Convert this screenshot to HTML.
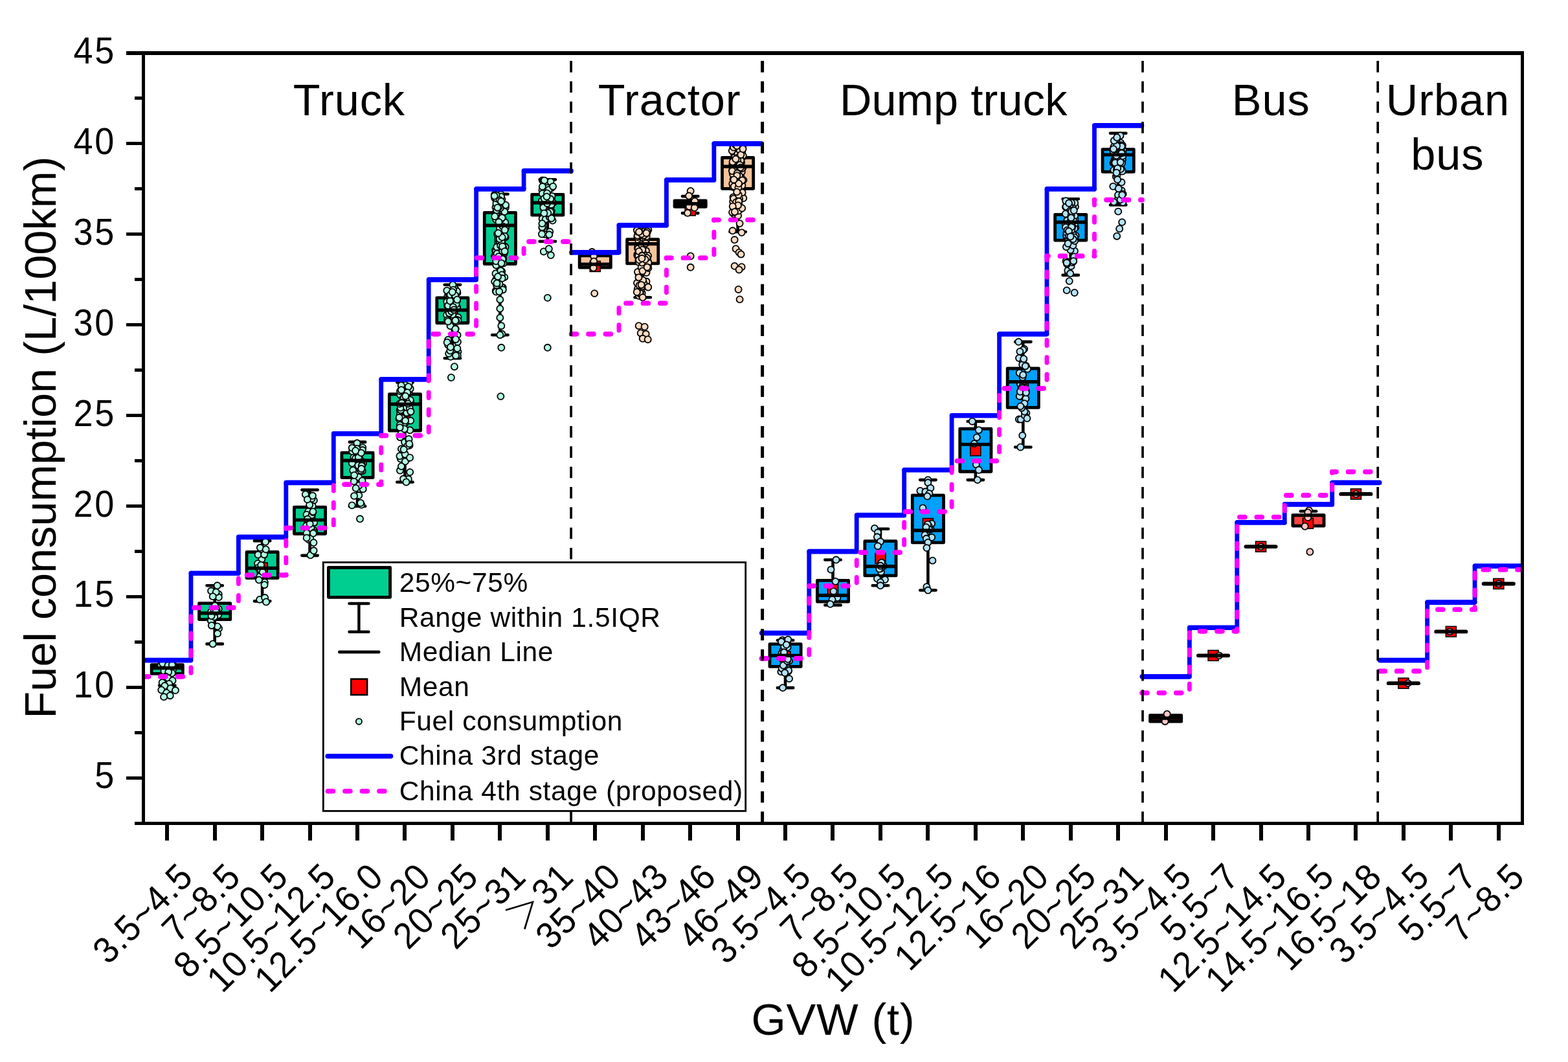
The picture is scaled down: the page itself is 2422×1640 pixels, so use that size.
<!DOCTYPE html>
<html lang="en"><head><meta charset="utf-8"><title>Fuel consumption by GVW</title>
<style>html,body{margin:0;padding:0;background:#fff}body{width:2422px;height:1640px;overflow:hidden}svg{display:block}text{white-space:pre}</style>
</head><body>
<figure id="chart" style="margin:0;width:2422px;height:1640px">
<svg width="2422" height="1640" viewBox="0 0 2422 1640" role="img" aria-label="Fuel consumption (L/100km) by GVW (t) for Truck, Tractor, Dump truck, Bus and Urban bus">
<rect width="2422" height="1640" fill="#fff"/>
<g id="boxes" stroke="#000" stroke-linecap="round" stroke-linejoin="round">
<g>
<path d="M258.22 1026.6V1022.4M246.02 1022.4H270.42" fill="none" stroke-width="4.6"/>
<path d="M258.22 1040.32V1058.51M246.02 1058.51H270.42" fill="none" stroke-width="4.6"/>
<rect x="234.12" y="1026.6" width="48.2" height="13.71" fill="#00CD90" stroke-width="4.8"/>
<rect x="250.22" y="1034" width="16" height="16" fill="#FF0000" stroke-width="1.6" stroke-linejoin="miter"/>
<g fill="#B3FCE4" stroke-width="1.8"><circle cx="261.5" cy="1031.33" r="5.05"/><circle cx="248.51" cy="1027.2" r="5.05"/><circle cx="267.08" cy="1034.11" r="5.05"/><circle cx="266.2" cy="1027.55" r="5.05"/><circle cx="256.17" cy="1027.3" r="5.05"/><circle cx="251.22" cy="1024.64" r="5.05"/><circle cx="259.52" cy="1027.44" r="5.05"/><circle cx="265.82" cy="1026.6" r="5.05"/><circle cx="253.42" cy="1036.2" r="5.05"/><circle cx="265.82" cy="1039.48" r="5.05"/><circle cx="260.22" cy="1037.8" r="5.05"/><circle cx="256.22" cy="1044.8" r="5.05"/><circle cx="259.52" cy="1047.03" r="5.05"/><circle cx="266.52" cy="1050.95" r="5.05"/><circle cx="250.62" cy="1054.03" r="5.05"/><circle cx="261.22" cy="1055.99" r="5.05"/><circle cx="254.42" cy="1059.07" r="5.05"/><circle cx="263.32" cy="1062.99" r="5.05"/><circle cx="249.32" cy="1065.51" r="5.05"/><circle cx="270.92" cy="1066.07" r="5.05"/><circle cx="257.22" cy="1069.98" r="5.05"/><circle cx="262.72" cy="1074.18" r="5.05"/><circle cx="253.12" cy="1076.14" r="5.05"/></g>
<path d="M234.12 1031.64H282.32" fill="none" stroke-width="5.2" stroke-linecap="butt"/>
</g>
<g>
<path d="M331.67 931.72V904.29M319.47 904.29H343.87" fill="none" stroke-width="4.6"/>
<path d="M331.67 956.63V994.42M319.47 994.42H343.87" fill="none" stroke-width="4.6"/>
<rect x="307.57" y="931.72" width="48.2" height="24.91" fill="#00CD90" stroke-width="4.8"/>
<rect x="323.67" y="936.04" width="16" height="16" fill="#FF0000" stroke-width="1.6" stroke-linejoin="miter"/>
<g fill="#B3FCE4" stroke-width="1.8"><circle cx="325.85" cy="958.51" r="5.05"/><circle cx="337.77" cy="917.79" r="5.05"/><circle cx="325.35" cy="945.79" r="5.05"/><circle cx="335.71" cy="951.02" r="5.05"/><circle cx="326.09" cy="912.53" r="5.05"/><circle cx="335.27" cy="939.78" r="5.05"/><circle cx="332.59" cy="946.14" r="5.05"/><circle cx="337.82" cy="922.31" r="5.05"/><circle cx="337.28" cy="949.63" r="5.05"/><circle cx="337.76" cy="940.37" r="5.05"/><circle cx="338.03" cy="970.51" r="5.05"/><circle cx="332.02" cy="935.49" r="5.05"/><circle cx="335.84" cy="967.36" r="5.05"/><circle cx="334.57" cy="941.16" r="5.05"/><circle cx="326.84" cy="965.93" r="5.05"/><circle cx="330.57" cy="943.66" r="5.05"/><circle cx="331.2" cy="952.58" r="5.05"/><circle cx="336.02" cy="978.4" r="5.05"/><circle cx="326.5" cy="951.13" r="5.05"/><circle cx="333.7" cy="914.42" r="5.05"/><circle cx="333.44" cy="944.58" r="5.05"/><circle cx="328.72" cy="921.13" r="5.05"/><circle cx="328.67" cy="994.42" r="5.05"/><circle cx="335.67" cy="904.29" r="5.05"/></g>
<path d="M307.57 946.84H355.77" fill="none" stroke-width="5.2" stroke-linecap="butt"/>
</g>
<g>
<path d="M405.12 852.52V835.16M392.92 835.16H417.32" fill="none" stroke-width="4.6"/>
<path d="M405.12 892.54V928.36M392.92 928.36H417.32" fill="none" stroke-width="4.6"/>
<rect x="381.02" y="852.52" width="48.2" height="40.02" fill="#00CD90" stroke-width="4.8"/>
<rect x="397.12" y="868.87" width="16" height="16" fill="#FF0000" stroke-width="1.6" stroke-linejoin="miter"/>
<g fill="#B3FCE4" stroke-width="1.8"><circle cx="408.82" cy="849.09" r="5.05"/><circle cx="399.35" cy="874.48" r="5.05"/><circle cx="401.33" cy="890.09" r="5.05"/><circle cx="410.11" cy="836.7" r="5.05"/><circle cx="404.37" cy="863.64" r="5.05"/><circle cx="408.9" cy="899.26" r="5.05"/><circle cx="404.78" cy="879.14" r="5.05"/><circle cx="404.1" cy="848.09" r="5.05"/><circle cx="408.51" cy="903.18" r="5.05"/><circle cx="398.48" cy="874.39" r="5.05"/><circle cx="401.87" cy="845.81" r="5.05"/><circle cx="398.13" cy="870.13" r="5.05"/><circle cx="398.58" cy="856.57" r="5.05"/><circle cx="399.98" cy="895.56" r="5.05"/><circle cx="398.56" cy="876.85" r="5.05"/><circle cx="408.16" cy="856.43" r="5.05"/><circle cx="410.66" cy="848.34" r="5.05"/><circle cx="403.16" cy="872.63" r="5.05"/><circle cx="402.86" cy="880.73" r="5.05"/><circle cx="405.65" cy="883.4" r="5.05"/><circle cx="401.12" cy="925.85" r="5.05"/><circle cx="409.12" cy="923.05" r="5.05"/><circle cx="411.12" cy="929.48" r="5.05"/></g>
<path d="M381.02 877.43H429.22" fill="none" stroke-width="5.2" stroke-linecap="butt"/>
</g>
<g>
<path d="M478.57 783.11V756.52M466.37 756.52H490.77" fill="none" stroke-width="4.6"/>
<path d="M478.57 824.25V857.83M466.37 857.83H490.77" fill="none" stroke-width="4.6"/>
<rect x="454.47" y="783.11" width="48.2" height="41.14" fill="#00CD90" stroke-width="4.8"/>
<rect x="470.57" y="796.1" width="16" height="16" fill="#FF0000" stroke-width="1.6" stroke-linejoin="miter"/>
<g fill="#B3FCE4" stroke-width="1.8"><circle cx="481.27" cy="799.02" r="5.05"/><circle cx="473.72" cy="823.15" r="5.05"/><circle cx="471.86" cy="763.52" r="5.05"/><circle cx="485.23" cy="806.92" r="5.05"/><circle cx="484.85" cy="772.74" r="5.05"/><circle cx="476.11" cy="789.84" r="5.05"/><circle cx="473.57" cy="794.6" r="5.05"/><circle cx="481.58" cy="795.43" r="5.05"/><circle cx="483.4" cy="790.96" r="5.05"/><circle cx="474.2" cy="803.31" r="5.05"/><circle cx="482.73" cy="781.55" r="5.05"/><circle cx="485.12" cy="819.27" r="5.05"/><circle cx="473.22" cy="811.79" r="5.05"/><circle cx="480.68" cy="815.62" r="5.05"/><circle cx="481.63" cy="770.05" r="5.05"/><circle cx="477.02" cy="833.33" r="5.05"/><circle cx="478.18" cy="779.6" r="5.05"/><circle cx="475.03" cy="801.53" r="5.05"/><circle cx="483.4" cy="790.09" r="5.05"/><circle cx="482.89" cy="765.53" r="5.05"/><circle cx="479.33" cy="831.83" r="5.05"/><circle cx="473.64" cy="830.63" r="5.05"/><circle cx="478.65" cy="809.04" r="5.05"/><circle cx="474.86" cy="771.4" r="5.05"/><circle cx="485.34" cy="822.17" r="5.05"/><circle cx="483.91" cy="823.59" r="5.05"/><circle cx="484.43" cy="837.99" r="5.05"/><circle cx="479.57" cy="857.27" r="5.05"/><circle cx="484.57" cy="850.28" r="5.05"/></g>
<path d="M454.47 802.98H502.67" fill="none" stroke-width="5.2" stroke-linecap="butt"/>
</g>
<g>
<path d="M552.02 699.14V682.63M539.82 682.63H564.22" fill="none" stroke-width="4.6"/>
<path d="M552.02 737.48V781.71M539.82 781.71H564.22" fill="none" stroke-width="4.6"/>
<rect x="527.92" y="699.14" width="48.2" height="38.34" fill="#00CD90" stroke-width="4.8"/>
<rect x="544.02" y="712.13" width="16" height="16" fill="#FF0000" stroke-width="1.6" stroke-linejoin="miter"/>
<g fill="#B3FCE4" stroke-width="1.8"><circle cx="558.28" cy="712" r="5.05"/><circle cx="549" cy="719.96" r="5.05"/><circle cx="550.02" cy="740.25" r="5.05"/><circle cx="555.23" cy="755.21" r="5.05"/><circle cx="546.43" cy="706.14" r="5.05"/><circle cx="543.73" cy="780.34" r="5.05"/><circle cx="559.26" cy="718.96" r="5.05"/><circle cx="554.3" cy="765.04" r="5.05"/><circle cx="553.8" cy="726.97" r="5.05"/><circle cx="560.66" cy="755.21" r="5.05"/><circle cx="559.76" cy="727.29" r="5.05"/><circle cx="558.3" cy="779.63" r="5.05"/><circle cx="554.91" cy="706.47" r="5.05"/><circle cx="548.3" cy="695.43" r="5.05"/><circle cx="550.84" cy="698.6" r="5.05"/><circle cx="550.1" cy="714.7" r="5.05"/><circle cx="552.69" cy="702.01" r="5.05"/><circle cx="552.52" cy="696.63" r="5.05"/><circle cx="546.71" cy="743.36" r="5.05"/><circle cx="560.92" cy="715.51" r="5.05"/><circle cx="543.81" cy="715.24" r="5.05"/><circle cx="554" cy="736.78" r="5.05"/><circle cx="554.79" cy="749.46" r="5.05"/><circle cx="559.51" cy="742.34" r="5.05"/><circle cx="552.77" cy="710.12" r="5.05"/><circle cx="551.53" cy="684.32" r="5.05"/><circle cx="554.39" cy="705.41" r="5.05"/><circle cx="558.79" cy="716.88" r="5.05"/><circle cx="554.93" cy="723.78" r="5.05"/><circle cx="549.14" cy="707.86" r="5.05"/><circle cx="545.23" cy="726.17" r="5.05"/><circle cx="557.55" cy="725.07" r="5.05"/><circle cx="557.01" cy="776.7" r="5.05"/><circle cx="547.2" cy="733.84" r="5.05"/><circle cx="560.27" cy="691.22" r="5.05"/><circle cx="553.32" cy="718.76" r="5.05"/><circle cx="549.62" cy="753.9" r="5.05"/><circle cx="559.83" cy="695.03" r="5.05"/><circle cx="551.3" cy="692.94" r="5.05"/><circle cx="553.75" cy="706.32" r="5.05"/><circle cx="558.75" cy="719.33" r="5.05"/><circle cx="544.2" cy="697.06" r="5.05"/><circle cx="557.93" cy="699.34" r="5.05"/><circle cx="547.05" cy="765.89" r="5.05"/><circle cx="543.78" cy="691.57" r="5.05"/><circle cx="557.39" cy="726.46" r="5.05"/><circle cx="549.18" cy="696" r="5.05"/><circle cx="558.22" cy="723.82" r="5.05"/><circle cx="556.02" cy="801.3" r="5.05"/></g>
<path d="M527.92 711.18H576.12" fill="none" stroke-width="5.2" stroke-linecap="butt"/>
</g>
<g>
<path d="M625.47 608.74V590.55M613.27 590.55H637.67" fill="none" stroke-width="4.6"/>
<path d="M625.47 664.99V744.48M613.27 744.48H637.67" fill="none" stroke-width="4.6"/>
<rect x="601.37" y="608.74" width="48.2" height="56.26" fill="#00CD90" stroke-width="4.8"/>
<rect x="617.47" y="633.76" width="16" height="16" fill="#FF0000" stroke-width="1.6" stroke-linejoin="miter"/>
<g fill="#B3FCE4" stroke-width="1.8"><circle cx="630.73" cy="605.41" r="5.05"/><circle cx="617.96" cy="726.57" r="5.05"/><circle cx="619.91" cy="707.05" r="5.05"/><circle cx="623.73" cy="645.03" r="5.05"/><circle cx="619.51" cy="669.63" r="5.05"/><circle cx="625.06" cy="682.8" r="5.05"/><circle cx="618.24" cy="703.92" r="5.05"/><circle cx="624.83" cy="700.18" r="5.05"/><circle cx="628.52" cy="709.12" r="5.05"/><circle cx="618.11" cy="609.48" r="5.05"/><circle cx="625.79" cy="653.2" r="5.05"/><circle cx="630.01" cy="637.82" r="5.05"/><circle cx="623.45" cy="655.31" r="5.05"/><circle cx="618.87" cy="708.57" r="5.05"/><circle cx="617.61" cy="633.3" r="5.05"/><circle cx="623.86" cy="635.47" r="5.05"/><circle cx="629.88" cy="608.19" r="5.05"/><circle cx="621.07" cy="597.22" r="5.05"/><circle cx="632.59" cy="687.85" r="5.05"/><circle cx="616.48" cy="646.85" r="5.05"/><circle cx="620.94" cy="643.75" r="5.05"/><circle cx="628.15" cy="637.34" r="5.05"/><circle cx="625.86" cy="712.66" r="5.05"/><circle cx="634.37" cy="635.28" r="5.05"/><circle cx="619.93" cy="720.15" r="5.05"/><circle cx="631.7" cy="606.15" r="5.05"/><circle cx="617.47" cy="704.26" r="5.05"/><circle cx="617.92" cy="644.73" r="5.05"/><circle cx="624.76" cy="624.56" r="5.05"/><circle cx="617.89" cy="640.01" r="5.05"/><circle cx="619.44" cy="643.58" r="5.05"/><circle cx="623.8" cy="647.32" r="5.05"/><circle cx="625.89" cy="607.78" r="5.05"/><circle cx="630.5" cy="603.67" r="5.05"/><circle cx="618" cy="604.01" r="5.05"/><circle cx="631.27" cy="679.19" r="5.05"/><circle cx="634.27" cy="620.93" r="5.05"/><circle cx="620.58" cy="645.5" r="5.05"/><circle cx="619.04" cy="633.19" r="5.05"/><circle cx="633.77" cy="617.77" r="5.05"/><circle cx="633.23" cy="729.1" r="5.05"/><circle cx="631.55" cy="677.94" r="5.05"/><circle cx="618.08" cy="675.21" r="5.05"/><circle cx="623.26" cy="620.07" r="5.05"/><circle cx="618.81" cy="629.54" r="5.05"/><circle cx="633.22" cy="664.3" r="5.05"/><circle cx="632.08" cy="591.47" r="5.05"/><circle cx="621.02" cy="595.04" r="5.05"/><circle cx="626.08" cy="594.77" r="5.05"/><circle cx="622" cy="615.91" r="5.05"/><circle cx="627.12" cy="618.04" r="5.05"/><circle cx="617.19" cy="623.66" r="5.05"/><circle cx="617.73" cy="656.49" r="5.05"/><circle cx="634.17" cy="649.64" r="5.05"/><circle cx="628.07" cy="629.01" r="5.05"/><circle cx="619.75" cy="595.22" r="5.05"/><circle cx="632.71" cy="630.29" r="5.05"/><circle cx="629.38" cy="688.52" r="5.05"/><circle cx="623.52" cy="614.21" r="5.05"/><circle cx="616.67" cy="644.79" r="5.05"/><circle cx="625.72" cy="701.57" r="5.05"/><circle cx="633.7" cy="600.31" r="5.05"/><circle cx="624.7" cy="662.48" r="5.05"/><circle cx="622.03" cy="622.08" r="5.05"/><circle cx="630.31" cy="623.45" r="5.05"/><circle cx="617.59" cy="660.17" r="5.05"/><circle cx="619.93" cy="693.15" r="5.05"/><circle cx="626.11" cy="649.62" r="5.05"/><circle cx="633.13" cy="706.71" r="5.05"/><circle cx="634.42" cy="635.67" r="5.05"/><circle cx="630.86" cy="597.14" r="5.05"/><circle cx="629.22" cy="606.13" r="5.05"/><circle cx="632.25" cy="685.39" r="5.05"/><circle cx="630.82" cy="739.78" r="5.05"/><circle cx="623.07" cy="739.56" r="5.05"/><circle cx="623.68" cy="694.06" r="5.05"/><circle cx="619.91" cy="602.26" r="5.05"/><circle cx="620.47" cy="622.28" r="5.05"/><circle cx="626.33" cy="611.71" r="5.05"/><circle cx="627.47" cy="744.48" r="5.05"/></g>
<path d="M601.37 624.13H649.57" fill="none" stroke-width="5.2" stroke-linecap="butt"/>
</g>
<g>
<path d="M698.91 459.84V439.69M686.71 439.69H711.11" fill="none" stroke-width="4.6"/>
<path d="M698.91 498.74V553.32M686.71 553.32H711.11" fill="none" stroke-width="4.6"/>
<rect x="674.81" y="459.84" width="48.2" height="38.9" fill="#00CD90" stroke-width="4.8"/>
<rect x="690.91" y="474.23" width="16" height="16" fill="#FF0000" stroke-width="1.6" stroke-linejoin="miter"/>
<g fill="#B3FCE4" stroke-width="1.8"><circle cx="696.54" cy="489.03" r="5.05"/><circle cx="701" cy="489" r="5.05"/><circle cx="706.12" cy="475.1" r="5.05"/><circle cx="703.24" cy="541.71" r="5.05"/><circle cx="698.56" cy="468.24" r="5.05"/><circle cx="690.5" cy="463.65" r="5.05"/><circle cx="706.44" cy="452.16" r="5.05"/><circle cx="694.02" cy="487.29" r="5.05"/><circle cx="707.46" cy="543.11" r="5.05"/><circle cx="691.43" cy="457.24" r="5.05"/><circle cx="704.89" cy="474.05" r="5.05"/><circle cx="697" cy="494.02" r="5.05"/><circle cx="702.87" cy="445.76" r="5.05"/><circle cx="705.77" cy="464.88" r="5.05"/><circle cx="707.49" cy="490" r="5.05"/><circle cx="698.9" cy="455.82" r="5.05"/><circle cx="703.09" cy="446.24" r="5.05"/><circle cx="696.98" cy="458.76" r="5.05"/><circle cx="706.43" cy="494.03" r="5.05"/><circle cx="693.75" cy="480.65" r="5.05"/><circle cx="692.12" cy="524.77" r="5.05"/><circle cx="706.85" cy="549.04" r="5.05"/><circle cx="704.32" cy="465.45" r="5.05"/><circle cx="693.54" cy="491.58" r="5.05"/><circle cx="705.52" cy="449.74" r="5.05"/><circle cx="700.88" cy="491.79" r="5.05"/><circle cx="690.05" cy="486.34" r="5.05"/><circle cx="696.11" cy="550.75" r="5.05"/><circle cx="700.19" cy="497.71" r="5.05"/><circle cx="703.07" cy="497.86" r="5.05"/><circle cx="693.19" cy="545.99" r="5.05"/><circle cx="705.97" cy="450.02" r="5.05"/><circle cx="692.22" cy="532.89" r="5.05"/><circle cx="695.01" cy="481.38" r="5.05"/><circle cx="694.81" cy="477.68" r="5.05"/><circle cx="706.54" cy="517.41" r="5.05"/><circle cx="693.31" cy="481.77" r="5.05"/><circle cx="705.96" cy="474.1" r="5.05"/><circle cx="690.68" cy="528.74" r="5.05"/><circle cx="694.72" cy="469.13" r="5.05"/><circle cx="693.59" cy="459.03" r="5.05"/><circle cx="703.73" cy="507.76" r="5.05"/><circle cx="695.35" cy="541.52" r="5.05"/><circle cx="694.27" cy="459.56" r="5.05"/><circle cx="690.83" cy="472.09" r="5.05"/><circle cx="693.79" cy="457.5" r="5.05"/><circle cx="692.89" cy="452.97" r="5.05"/><circle cx="694.66" cy="481.31" r="5.05"/><circle cx="695.05" cy="474.44" r="5.05"/><circle cx="705.88" cy="475.64" r="5.05"/><circle cx="699.23" cy="485.71" r="5.05"/><circle cx="706.91" cy="528.02" r="5.05"/><circle cx="701.57" cy="462.07" r="5.05"/><circle cx="694.79" cy="497.49" r="5.05"/><circle cx="694.26" cy="457.32" r="5.05"/><circle cx="693.84" cy="483.69" r="5.05"/><circle cx="707.43" cy="495.19" r="5.05"/><circle cx="704.61" cy="496.83" r="5.05"/><circle cx="703.5" cy="494.99" r="5.05"/><circle cx="699.37" cy="439.98" r="5.05"/><circle cx="690.27" cy="448.67" r="5.05"/><circle cx="690.27" cy="466.08" r="5.05"/><circle cx="706.34" cy="538.04" r="5.05"/><circle cx="691.18" cy="494.28" r="5.05"/><circle cx="695.59" cy="503.4" r="5.05"/><circle cx="692.12" cy="496.46" r="5.05"/><circle cx="698.83" cy="478.65" r="5.05"/><circle cx="697.13" cy="480.88" r="5.05"/><circle cx="700.1" cy="447.59" r="5.05"/><circle cx="704.49" cy="469.9" r="5.05"/><circle cx="692.17" cy="472.03" r="5.05"/><circle cx="703.97" cy="523.97" r="5.05"/><circle cx="695.08" cy="464.76" r="5.05"/><circle cx="695.49" cy="455.19" r="5.05"/><circle cx="702.35" cy="456.22" r="5.05"/><circle cx="702.88" cy="455.99" r="5.05"/><circle cx="695.93" cy="536.01" r="5.05"/><circle cx="699.96" cy="474.08" r="5.05"/><circle cx="698.75" cy="450.96" r="5.05"/><circle cx="701.17" cy="478.49" r="5.05"/><circle cx="704.11" cy="549.16" r="5.05"/><circle cx="703.32" cy="508.27" r="5.05"/><circle cx="706.14" cy="462.76" r="5.05"/><circle cx="701.91" cy="566.2" r="5.05"/><circle cx="696.91" cy="582.99" r="5.05"/></g>
<path d="M674.81 478.87H723.01" fill="none" stroke-width="5.2" stroke-linecap="butt"/>
</g>
<g>
<path d="M772.36 328.3V299.75M760.16 299.75H784.56" fill="none" stroke-width="4.6"/>
<path d="M772.36 407.5V517.22M760.16 517.22H784.56" fill="none" stroke-width="4.6"/>
<rect x="748.26" y="328.3" width="48.2" height="79.21" fill="#00CD90" stroke-width="4.8"/>
<rect x="764.36" y="365.08" width="16" height="16" fill="#FF0000" stroke-width="1.6" stroke-linejoin="miter"/>
<g fill="#B3FCE4" stroke-width="1.8"><circle cx="776.7" cy="443.96" r="5.05"/><circle cx="777.6" cy="406.6" r="5.05"/><circle cx="775.44" cy="307.91" r="5.05"/><circle cx="767.85" cy="309.35" r="5.05"/><circle cx="780.92" cy="320.46" r="5.05"/><circle cx="769.66" cy="389.28" r="5.05"/><circle cx="765.95" cy="431.94" r="5.05"/><circle cx="765.66" cy="449.32" r="5.05"/><circle cx="772.06" cy="326.76" r="5.05"/><circle cx="778.25" cy="355.12" r="5.05"/><circle cx="778.66" cy="324.65" r="5.05"/><circle cx="764.18" cy="306.08" r="5.05"/><circle cx="770.98" cy="449.06" r="5.05"/><circle cx="771.46" cy="372.73" r="5.05"/><circle cx="779.57" cy="380.48" r="5.05"/><circle cx="771.16" cy="442.45" r="5.05"/><circle cx="773.33" cy="352.48" r="5.05"/><circle cx="770.64" cy="325.23" r="5.05"/><circle cx="770.84" cy="412.18" r="5.05"/><circle cx="777.87" cy="388.35" r="5.05"/><circle cx="767.84" cy="389.77" r="5.05"/><circle cx="766.3" cy="409.6" r="5.05"/><circle cx="775.32" cy="443.68" r="5.05"/><circle cx="769.89" cy="323.05" r="5.05"/><circle cx="764.9" cy="386.54" r="5.05"/><circle cx="768.77" cy="313.74" r="5.05"/><circle cx="766.39" cy="450.61" r="5.05"/><circle cx="775.29" cy="419.18" r="5.05"/><circle cx="772.36" cy="402.79" r="5.05"/><circle cx="777.09" cy="394.4" r="5.05"/><circle cx="771.6" cy="372.68" r="5.05"/><circle cx="778.01" cy="324.36" r="5.05"/><circle cx="769.57" cy="398.58" r="5.05"/><circle cx="779.31" cy="326.92" r="5.05"/><circle cx="771.07" cy="394.26" r="5.05"/><circle cx="774.64" cy="405.73" r="5.05"/><circle cx="780.61" cy="366.33" r="5.05"/><circle cx="777.32" cy="399.46" r="5.05"/><circle cx="778.53" cy="391.23" r="5.05"/><circle cx="764.14" cy="395.12" r="5.05"/><circle cx="770.84" cy="361.83" r="5.05"/><circle cx="772.39" cy="319.69" r="5.05"/><circle cx="781.12" cy="316.6" r="5.05"/><circle cx="778.29" cy="389.28" r="5.05"/><circle cx="768.16" cy="322.29" r="5.05"/><circle cx="770.78" cy="382.62" r="5.05"/><circle cx="764.16" cy="434.84" r="5.05"/><circle cx="777.46" cy="343.58" r="5.05"/><circle cx="765.95" cy="388.38" r="5.05"/><circle cx="772.74" cy="321.26" r="5.05"/><circle cx="776.49" cy="337.05" r="5.05"/><circle cx="776.77" cy="447.44" r="5.05"/><circle cx="765.5" cy="422.39" r="5.05"/><circle cx="780.27" cy="343.49" r="5.05"/><circle cx="772.75" cy="335.03" r="5.05"/><circle cx="764.09" cy="395.88" r="5.05"/><circle cx="777.65" cy="352.79" r="5.05"/><circle cx="773.72" cy="300.52" r="5.05"/><circle cx="775.47" cy="362.84" r="5.05"/><circle cx="765.43" cy="320.1" r="5.05"/><circle cx="779.3" cy="428.16" r="5.05"/><circle cx="774.01" cy="338.32" r="5.05"/><circle cx="773.41" cy="418.03" r="5.05"/><circle cx="766.1" cy="327.31" r="5.05"/><circle cx="764.27" cy="300.54" r="5.05"/><circle cx="770.53" cy="319.44" r="5.05"/><circle cx="766.01" cy="331.58" r="5.05"/><circle cx="767.36" cy="381.54" r="5.05"/><circle cx="780.47" cy="381.32" r="5.05"/><circle cx="771.95" cy="352.5" r="5.05"/><circle cx="781.11" cy="351.75" r="5.05"/><circle cx="774.99" cy="424.48" r="5.05"/><circle cx="765.22" cy="396.15" r="5.05"/><circle cx="766.2" cy="403.31" r="5.05"/><circle cx="769.18" cy="315.56" r="5.05"/><circle cx="766.02" cy="338.85" r="5.05"/><circle cx="773.11" cy="379.18" r="5.05"/><circle cx="767.06" cy="324.54" r="5.05"/><circle cx="775.56" cy="336.38" r="5.05"/><circle cx="775.71" cy="429.78" r="5.05"/><circle cx="776.55" cy="349.39" r="5.05"/><circle cx="767.61" cy="391.57" r="5.05"/><circle cx="779.75" cy="355.25" r="5.05"/><circle cx="771.46" cy="438.61" r="5.05"/><circle cx="764.27" cy="334.22" r="5.05"/><circle cx="771.18" cy="450.3" r="5.05"/><circle cx="770.25" cy="396.13" r="5.05"/><circle cx="766.4" cy="314.23" r="5.05"/><circle cx="768.11" cy="361.3" r="5.05"/><circle cx="766.68" cy="306.26" r="5.05"/><circle cx="769.01" cy="427.19" r="5.05"/><circle cx="768.49" cy="320.69" r="5.05"/><circle cx="779.72" cy="364.92" r="5.05"/><circle cx="776.52" cy="380.35" r="5.05"/><circle cx="774.08" cy="303.7" r="5.05"/><circle cx="770.56" cy="343" r="5.05"/><circle cx="776.33" cy="400.21" r="5.05"/><circle cx="771.52" cy="308.87" r="5.05"/><circle cx="777.22" cy="382.27" r="5.05"/><circle cx="774.76" cy="373.29" r="5.05"/><circle cx="771.69" cy="369.06" r="5.05"/><circle cx="775.62" cy="366.38" r="5.05"/><circle cx="769.62" cy="359.99" r="5.05"/><circle cx="776.22" cy="387.88" r="5.05"/><circle cx="766.62" cy="301.54" r="5.05"/><circle cx="774.07" cy="310.94" r="5.05"/><circle cx="767.18" cy="440.65" r="5.05"/><circle cx="774.51" cy="406.49" r="5.05"/><circle cx="776.11" cy="380.55" r="5.05"/><circle cx="779.54" cy="388.15" r="5.05"/><circle cx="767.47" cy="437.45" r="5.05"/><circle cx="763.68" cy="302.65" r="5.05"/><circle cx="772.36" cy="462.64" r="5.05"/><circle cx="772.36" cy="476.63" r="5.05"/><circle cx="772.36" cy="490.63" r="5.05"/><circle cx="774.36" cy="503.22" r="5.05"/><circle cx="775.36" cy="515.82" r="5.05"/><circle cx="772.36" cy="517.22" r="5.05"/><circle cx="774.36" cy="536.81" r="5.05"/><circle cx="773.36" cy="612.1" r="5.05"/></g>
<path d="M748.26 348.17H796.46" fill="none" stroke-width="5.2" stroke-linecap="butt"/>
</g>
<g>
<path d="M845.81 300.31V277.36M833.61 277.36H858.01" fill="none" stroke-width="4.6"/>
<path d="M845.81 332.21V372.8M833.61 372.8H858.01" fill="none" stroke-width="4.6"/>
<rect x="821.71" y="300.31" width="48.2" height="31.91" fill="#00CD90" stroke-width="4.8"/>
<rect x="837.81" y="311.9" width="16" height="16" fill="#FF0000" stroke-width="1.6" stroke-linejoin="miter"/>
<g fill="#B3FCE4" stroke-width="1.8"><circle cx="840.22" cy="322.73" r="5.05"/><circle cx="838.46" cy="335.81" r="5.05"/><circle cx="837.49" cy="293.4" r="5.05"/><circle cx="842.91" cy="303.64" r="5.05"/><circle cx="842.45" cy="310.23" r="5.05"/><circle cx="844.07" cy="283.89" r="5.05"/><circle cx="850.8" cy="317.63" r="5.05"/><circle cx="851.5" cy="290.66" r="5.05"/><circle cx="839.16" cy="341.99" r="5.05"/><circle cx="842.57" cy="295.08" r="5.05"/><circle cx="837.55" cy="352.12" r="5.05"/><circle cx="845.71" cy="290.11" r="5.05"/><circle cx="852.15" cy="309.1" r="5.05"/><circle cx="851.87" cy="308.02" r="5.05"/><circle cx="854.28" cy="313.21" r="5.05"/><circle cx="837.62" cy="337.84" r="5.05"/><circle cx="846.59" cy="303.13" r="5.05"/><circle cx="840.98" cy="361.89" r="5.05"/><circle cx="849.26" cy="327.81" r="5.05"/><circle cx="842.72" cy="338.67" r="5.05"/><circle cx="837.47" cy="350.86" r="5.05"/><circle cx="849.27" cy="357.91" r="5.05"/><circle cx="850.98" cy="318.53" r="5.05"/><circle cx="848.94" cy="313.59" r="5.05"/><circle cx="847.8" cy="292.86" r="5.05"/><circle cx="850.48" cy="280.6" r="5.05"/><circle cx="844.26" cy="323.67" r="5.05"/><circle cx="846.63" cy="328.09" r="5.05"/><circle cx="839.23" cy="315.92" r="5.05"/><circle cx="837.44" cy="345.15" r="5.05"/><circle cx="851.5" cy="316.17" r="5.05"/><circle cx="852.58" cy="302.87" r="5.05"/><circle cx="837.98" cy="278.57" r="5.05"/><circle cx="851.97" cy="326.11" r="5.05"/><circle cx="839.33" cy="279.99" r="5.05"/><circle cx="848.7" cy="335.13" r="5.05"/><circle cx="841.6" cy="318.05" r="5.05"/><circle cx="837.8" cy="299" r="5.05"/><circle cx="854.13" cy="287.92" r="5.05"/><circle cx="846.22" cy="329.74" r="5.05"/><circle cx="844.99" cy="298.46" r="5.05"/><circle cx="836.97" cy="361.47" r="5.05"/><circle cx="850.27" cy="307.28" r="5.05"/><circle cx="837" cy="310.06" r="5.05"/><circle cx="848.33" cy="362.31" r="5.05"/><circle cx="845.58" cy="326.47" r="5.05"/><circle cx="842.21" cy="317.74" r="5.05"/><circle cx="840.87" cy="278.65" r="5.05"/><circle cx="839.38" cy="320.44" r="5.05"/><circle cx="845.16" cy="314.01" r="5.05"/><circle cx="853.55" cy="340.62" r="5.05"/><circle cx="837.9" cy="288.1" r="5.05"/><circle cx="850.25" cy="327.08" r="5.05"/><circle cx="851.75" cy="337.12" r="5.05"/><circle cx="840.66" cy="306.5" r="5.05"/><circle cx="844.46" cy="303.61" r="5.05"/><circle cx="846.26" cy="328.97" r="5.05"/><circle cx="840.47" cy="329.41" r="5.05"/><circle cx="839.81" cy="388.47" r="5.05"/><circle cx="847.81" cy="384.27" r="5.05"/><circle cx="850.81" cy="394.07" r="5.05"/><circle cx="845.81" cy="459.84" r="5.05"/><circle cx="845.81" cy="536.81" r="5.05"/></g>
<path d="M821.71 313.18H869.91" fill="none" stroke-width="5.2" stroke-linecap="butt"/>
</g>
<g>
<rect x="895.16" y="394.91" width="48.2" height="18.3" fill="#F7C39B" stroke-width="4.8"/>
<rect x="911.26" y="403.42" width="16" height="16" fill="#FF0000" stroke-width="1.6" stroke-linejoin="miter"/>
<g fill="#FCDCC4" stroke-width="1.8"><circle cx="914.46" cy="389.03" r="5.05"/><circle cx="917.26" cy="395.75" r="5.05"/><circle cx="917.26" cy="403.58" r="5.05"/><circle cx="916.66" cy="413.66" r="5.05"/><circle cx="918.26" cy="453.12" r="5.05"/></g>
<path d="M895.16 408.2H943.36" fill="none" stroke-width="5.2" stroke-linecap="butt"/>
</g>
<g>
<path d="M992.71 369.72V354.33M980.51 354.33H1004.91" fill="none" stroke-width="4.6"/>
<path d="M992.71 406.94V459.28M980.51 459.28H1004.91" fill="none" stroke-width="4.6"/>
<rect x="968.61" y="369.72" width="48.2" height="37.22" fill="#F7C39B" stroke-width="4.8"/>
<rect x="984.71" y="384.67" width="16" height="16" fill="#FF0000" stroke-width="1.6" stroke-linejoin="miter"/>
<g fill="#FCDCC4" stroke-width="1.8"><circle cx="998.58" cy="421.09" r="5.05"/><circle cx="988.28" cy="391.64" r="5.05"/><circle cx="1000.54" cy="403.35" r="5.05"/><circle cx="1000.9" cy="409.79" r="5.05"/><circle cx="993.49" cy="414.71" r="5.05"/><circle cx="987.37" cy="401.21" r="5.05"/><circle cx="994.87" cy="402.86" r="5.05"/><circle cx="992.17" cy="375.17" r="5.05"/><circle cx="985.12" cy="383.5" r="5.05"/><circle cx="990.35" cy="367.72" r="5.05"/><circle cx="991.67" cy="400.34" r="5.05"/><circle cx="998.35" cy="441.08" r="5.05"/><circle cx="985.55" cy="378.48" r="5.05"/><circle cx="989.33" cy="398.33" r="5.05"/><circle cx="991.61" cy="452.58" r="5.05"/><circle cx="991.54" cy="441.32" r="5.05"/><circle cx="993.34" cy="376.12" r="5.05"/><circle cx="991.76" cy="401.72" r="5.05"/><circle cx="1001.37" cy="354.9" r="5.05"/><circle cx="986.46" cy="452.18" r="5.05"/><circle cx="986.97" cy="456.73" r="5.05"/><circle cx="998.55" cy="434.82" r="5.05"/><circle cx="988.36" cy="387.23" r="5.05"/><circle cx="991.68" cy="377.76" r="5.05"/><circle cx="987.33" cy="404.4" r="5.05"/><circle cx="991.11" cy="385.7" r="5.05"/><circle cx="984.26" cy="393.29" r="5.05"/><circle cx="986.32" cy="401.98" r="5.05"/><circle cx="998.82" cy="360.95" r="5.05"/><circle cx="988.7" cy="453.79" r="5.05"/><circle cx="988.8" cy="371.53" r="5.05"/><circle cx="998.94" cy="442.52" r="5.05"/><circle cx="990.19" cy="397.83" r="5.05"/><circle cx="999.77" cy="399.89" r="5.05"/><circle cx="991.48" cy="364.04" r="5.05"/><circle cx="989.61" cy="448.29" r="5.05"/><circle cx="990.42" cy="355.7" r="5.05"/><circle cx="997.94" cy="387.32" r="5.05"/><circle cx="988.41" cy="452.22" r="5.05"/><circle cx="986.3" cy="422.73" r="5.05"/><circle cx="992.93" cy="399.97" r="5.05"/><circle cx="995.02" cy="441.45" r="5.05"/><circle cx="986.06" cy="371.12" r="5.05"/><circle cx="985.35" cy="380.45" r="5.05"/><circle cx="996.92" cy="365.65" r="5.05"/><circle cx="999.7" cy="401.28" r="5.05"/><circle cx="985.74" cy="383.96" r="5.05"/><circle cx="995.32" cy="364.91" r="5.05"/><circle cx="994.39" cy="369.36" r="5.05"/><circle cx="1001.06" cy="394.99" r="5.05"/><circle cx="984.6" cy="395.07" r="5.05"/><circle cx="986.69" cy="389.02" r="5.05"/><circle cx="997.61" cy="370.53" r="5.05"/><circle cx="993.25" cy="381.49" r="5.05"/><circle cx="983.99" cy="437.03" r="5.05"/><circle cx="984.8" cy="446.2" r="5.05"/><circle cx="986.69" cy="404.88" r="5.05"/><circle cx="998.31" cy="364.51" r="5.05"/><circle cx="986.01" cy="365.7" r="5.05"/><circle cx="994.17" cy="392.28" r="5.05"/><circle cx="998.65" cy="365.2" r="5.05"/><circle cx="998.81" cy="406.22" r="5.05"/><circle cx="985.03" cy="419.9" r="5.05"/><circle cx="990.54" cy="377.31" r="5.05"/><circle cx="994.35" cy="437.34" r="5.05"/><circle cx="989.05" cy="389.62" r="5.05"/><circle cx="984.34" cy="365.72" r="5.05"/><circle cx="996.97" cy="361.51" r="5.05"/><circle cx="989.85" cy="395.71" r="5.05"/><circle cx="993.07" cy="432.77" r="5.05"/><circle cx="1001.53" cy="405.5" r="5.05"/><circle cx="997.44" cy="375.78" r="5.05"/><circle cx="999.32" cy="398.24" r="5.05"/><circle cx="992.67" cy="357.2" r="5.05"/><circle cx="999.62" cy="358.84" r="5.05"/><circle cx="994.36" cy="359.51" r="5.05"/><circle cx="986.48" cy="428.44" r="5.05"/><circle cx="991.68" cy="388.86" r="5.05"/><circle cx="984.66" cy="363.66" r="5.05"/><circle cx="985.05" cy="357.79" r="5.05"/><circle cx="992.3" cy="385.76" r="5.05"/><circle cx="1001.35" cy="414" r="5.05"/><circle cx="986.15" cy="395.45" r="5.05"/><circle cx="990.6" cy="412.84" r="5.05"/><circle cx="991.81" cy="405.56" r="5.05"/><circle cx="996.46" cy="356.72" r="5.05"/><circle cx="992.52" cy="418.48" r="5.05"/><circle cx="987.12" cy="401.31" r="5.05"/><circle cx="994.41" cy="363.69" r="5.05"/><circle cx="986.92" cy="388.13" r="5.05"/><circle cx="999.6" cy="412.57" r="5.05"/><circle cx="991.16" cy="361.34" r="5.05"/><circle cx="983.88" cy="355.61" r="5.05"/><circle cx="991.85" cy="442.23" r="5.05"/><circle cx="987" cy="358.15" r="5.05"/><circle cx="1001.22" cy="443.49" r="5.05"/><circle cx="991.76" cy="394.45" r="5.05"/><circle cx="999.51" cy="357.32" r="5.05"/><circle cx="987.64" cy="440.67" r="5.05"/><circle cx="991.73" cy="395.15" r="5.05"/><circle cx="998.47" cy="360" r="5.05"/><circle cx="996.6" cy="400.79" r="5.05"/><circle cx="991.45" cy="399.05" r="5.05"/><circle cx="983.8" cy="451.02" r="5.05"/><circle cx="990.62" cy="439.92" r="5.05"/><circle cx="992.71" cy="459.28" r="5.05"/><circle cx="986.71" cy="503.22" r="5.05"/><circle cx="995.71" cy="504.62" r="5.05"/><circle cx="989.71" cy="514.42" r="5.05"/><circle cx="997.71" cy="515.82" r="5.05"/><circle cx="992.71" cy="522.81" r="5.05"/><circle cx="1000.71" cy="524.21" r="5.05"/></g>
<path d="M968.61 376.72H1016.81" fill="none" stroke-width="5.2" stroke-linecap="butt"/>
</g>
<g>
<path d="M1066.16 309.82V303.11M1053.96 303.11H1078.36" fill="none" stroke-width="4.6"/>
<path d="M1066.16 319.34V329.14M1053.96 329.14H1078.36" fill="none" stroke-width="4.6"/>
<rect x="1042.06" y="309.82" width="48.2" height="9.52" fill="#F7C39B" stroke-width="4.8"/>
<rect x="1058.16" y="316.94" width="16" height="16" fill="#FF0000" stroke-width="1.6" stroke-linejoin="miter"/>
<g fill="#FCDCC4" stroke-width="1.8"><circle cx="1066.66" cy="294.99" r="5.05"/><circle cx="1064.16" cy="302.55" r="5.05"/><circle cx="1073.16" cy="310.66" r="5.05"/><circle cx="1064.66" cy="318.78" r="5.05"/><circle cx="1072.76" cy="320.74" r="5.05"/><circle cx="1062.16" cy="328.86" r="5.05"/><circle cx="1066.66" cy="395.47" r="5.05"/><circle cx="1066.66" cy="412.82" r="5.05"/></g>
<path d="M1042.06 314.58H1090.26" fill="none" stroke-width="5.2" stroke-linecap="butt"/>
</g>
<g>
<path d="M1139.6 243.49V221.94M1127.4 221.94H1151.8" fill="none" stroke-width="4.6"/>
<path d="M1139.6 291.35V357.96M1127.4 357.96H1151.8" fill="none" stroke-width="4.6"/>
<rect x="1115.5" y="243.49" width="48.2" height="47.86" fill="#F7C39B" stroke-width="4.8"/>
<rect x="1131.6" y="264.32" width="16" height="16" fill="#FF0000" stroke-width="1.6" stroke-linejoin="miter"/>
<g fill="#FCDCC4" stroke-width="1.8"><circle cx="1136.19" cy="229.28" r="5.05"/><circle cx="1146.18" cy="234.72" r="5.05"/><circle cx="1137.95" cy="315.92" r="5.05"/><circle cx="1143.67" cy="258.41" r="5.05"/><circle cx="1140.18" cy="232.48" r="5.05"/><circle cx="1141.54" cy="276.09" r="5.05"/><circle cx="1140.17" cy="277.48" r="5.05"/><circle cx="1131.21" cy="257.04" r="5.05"/><circle cx="1148.33" cy="306.03" r="5.05"/><circle cx="1138.16" cy="233.77" r="5.05"/><circle cx="1142" cy="230.18" r="5.05"/><circle cx="1133.82" cy="237.83" r="5.05"/><circle cx="1132.47" cy="304.41" r="5.05"/><circle cx="1135.32" cy="231.94" r="5.05"/><circle cx="1139.59" cy="278.08" r="5.05"/><circle cx="1141.6" cy="232.37" r="5.05"/><circle cx="1144.19" cy="281.1" r="5.05"/><circle cx="1132.17" cy="288.68" r="5.05"/><circle cx="1138.05" cy="272.61" r="5.05"/><circle cx="1145.02" cy="250.91" r="5.05"/><circle cx="1131.17" cy="262.57" r="5.05"/><circle cx="1144.37" cy="229.88" r="5.05"/><circle cx="1136.55" cy="270" r="5.05"/><circle cx="1132.15" cy="311.33" r="5.05"/><circle cx="1138.09" cy="327.28" r="5.05"/><circle cx="1147.4" cy="258.93" r="5.05"/><circle cx="1139.5" cy="298.33" r="5.05"/><circle cx="1136.26" cy="234.99" r="5.05"/><circle cx="1139.31" cy="332.14" r="5.05"/><circle cx="1131.87" cy="257.09" r="5.05"/><circle cx="1138.77" cy="242.96" r="5.05"/><circle cx="1147.35" cy="225.25" r="5.05"/><circle cx="1143.91" cy="278.96" r="5.05"/><circle cx="1136.43" cy="266.2" r="5.05"/><circle cx="1135.94" cy="281.29" r="5.05"/><circle cx="1141.59" cy="310.61" r="5.05"/><circle cx="1133.62" cy="330.49" r="5.05"/><circle cx="1133.16" cy="306.58" r="5.05"/><circle cx="1132.65" cy="277" r="5.05"/><circle cx="1140.13" cy="333.11" r="5.05"/><circle cx="1143.36" cy="322.16" r="5.05"/><circle cx="1139.65" cy="259.37" r="5.05"/><circle cx="1131.34" cy="283.69" r="5.05"/><circle cx="1142.9" cy="258.41" r="5.05"/><circle cx="1135.02" cy="238.33" r="5.05"/><circle cx="1147.71" cy="241.97" r="5.05"/><circle cx="1136.65" cy="258.97" r="5.05"/><circle cx="1139.39" cy="223.72" r="5.05"/><circle cx="1140.82" cy="231.28" r="5.05"/><circle cx="1133.4" cy="232.63" r="5.05"/><circle cx="1135.36" cy="241.81" r="5.05"/><circle cx="1138.42" cy="280.85" r="5.05"/><circle cx="1143.13" cy="265.55" r="5.05"/><circle cx="1147.29" cy="241.63" r="5.05"/><circle cx="1136.61" cy="246.79" r="5.05"/><circle cx="1138.77" cy="258.71" r="5.05"/><circle cx="1148.4" cy="278.11" r="5.05"/><circle cx="1140.98" cy="241.87" r="5.05"/><circle cx="1143.43" cy="323.03" r="5.05"/><circle cx="1146.68" cy="297.31" r="5.05"/><circle cx="1141.46" cy="316.29" r="5.05"/><circle cx="1147.78" cy="240.42" r="5.05"/><circle cx="1144.63" cy="273.43" r="5.05"/><circle cx="1140.51" cy="242.89" r="5.05"/><circle cx="1133.51" cy="255.44" r="5.05"/><circle cx="1145.83" cy="265.33" r="5.05"/><circle cx="1146.41" cy="286.53" r="5.05"/><circle cx="1137.16" cy="235.24" r="5.05"/><circle cx="1135.84" cy="277.66" r="5.05"/><circle cx="1131.95" cy="260.89" r="5.05"/><circle cx="1139.38" cy="237.7" r="5.05"/><circle cx="1132.37" cy="227.73" r="5.05"/><circle cx="1135.69" cy="249.43" r="5.05"/><circle cx="1143.16" cy="251.46" r="5.05"/><circle cx="1134.4" cy="318.98" r="5.05"/><circle cx="1139.04" cy="260.99" r="5.05"/><circle cx="1137.19" cy="312.22" r="5.05"/><circle cx="1132.59" cy="261.37" r="5.05"/><circle cx="1135.84" cy="246.92" r="5.05"/><circle cx="1143.85" cy="246.09" r="5.05"/><circle cx="1141.88" cy="323.86" r="5.05"/><circle cx="1130.78" cy="232.8" r="5.05"/><circle cx="1131.89" cy="268.72" r="5.05"/><circle cx="1142.75" cy="232.19" r="5.05"/><circle cx="1135.26" cy="279.58" r="5.05"/><circle cx="1142.85" cy="273.61" r="5.05"/><circle cx="1133.83" cy="287.91" r="5.05"/><circle cx="1139.27" cy="243.64" r="5.05"/><circle cx="1142.68" cy="281.7" r="5.05"/><circle cx="1142.06" cy="271.35" r="5.05"/><circle cx="1142.06" cy="306.86" r="5.05"/><circle cx="1131.09" cy="264.17" r="5.05"/><circle cx="1146.52" cy="278.42" r="5.05"/><circle cx="1138.64" cy="267.66" r="5.05"/><circle cx="1141.28" cy="242.62" r="5.05"/><circle cx="1140.79" cy="301.08" r="5.05"/><circle cx="1131.45" cy="253.05" r="5.05"/><circle cx="1140.77" cy="325.57" r="5.05"/><circle cx="1141.14" cy="310.98" r="5.05"/><circle cx="1140.46" cy="289.87" r="5.05"/><circle cx="1131.6" cy="249.93" r="5.05"/><circle cx="1138.23" cy="296.38" r="5.05"/><circle cx="1138.4" cy="271.14" r="5.05"/><circle cx="1146.82" cy="224.63" r="5.05"/><circle cx="1144.38" cy="248.01" r="5.05"/><circle cx="1141" cy="283.51" r="5.05"/><circle cx="1139.27" cy="246.95" r="5.05"/><circle cx="1146.04" cy="260.21" r="5.05"/><circle cx="1133.07" cy="227.5" r="5.05"/><circle cx="1133.57" cy="277.47" r="5.05"/><circle cx="1138.81" cy="224.22" r="5.05"/><circle cx="1136.45" cy="245.66" r="5.05"/><circle cx="1146.23" cy="321.52" r="5.05"/><circle cx="1136.18" cy="223.61" r="5.05"/><circle cx="1142.83" cy="254.61" r="5.05"/><circle cx="1138.24" cy="225.3" r="5.05"/><circle cx="1144.35" cy="238.95" r="5.05"/><circle cx="1131.11" cy="327.92" r="5.05"/><circle cx="1139.94" cy="317.18" r="5.05"/><circle cx="1131.74" cy="318.7" r="5.05"/><circle cx="1147.52" cy="229.98" r="5.05"/><circle cx="1143.96" cy="258.68" r="5.05"/><circle cx="1134.91" cy="327.18" r="5.05"/><circle cx="1142.6" cy="345.09" r="5.05"/><circle cx="1131.6" cy="356.28" r="5.05"/><circle cx="1145.6" cy="359.08" r="5.05"/><circle cx="1134.6" cy="370.28" r="5.05"/><circle cx="1136.6" cy="384.27" r="5.05"/><circle cx="1141.6" cy="389.87" r="5.05"/><circle cx="1144.6" cy="392.67" r="5.05"/><circle cx="1134.6" cy="410.86" r="5.05"/><circle cx="1145.6" cy="412.26" r="5.05"/><circle cx="1141.6" cy="416.46" r="5.05"/><circle cx="1140.6" cy="446.97" r="5.05"/><circle cx="1142.6" cy="462.36" r="5.05"/></g>
<path d="M1115.5 257.21H1163.7" fill="none" stroke-width="5.2" stroke-linecap="butt"/>
</g>
<g>
<path d="M1213.05 994.7V988.82M1200.85 988.82H1225.25" fill="none" stroke-width="4.6"/>
<path d="M1213.05 1029.4V1062.15M1200.85 1062.15H1225.25" fill="none" stroke-width="4.6"/>
<rect x="1188.95" y="994.7" width="48.2" height="34.71" fill="#00A1FB" stroke-width="4.8"/>
<rect x="1205.05" y="1006.01" width="16" height="16" fill="#FF0000" stroke-width="1.6" stroke-linejoin="miter"/>
<g fill="#B5E3F6" stroke-width="1.8"><circle cx="1208.52" cy="988.38" r="5.05"/><circle cx="1208.92" cy="993.89" r="5.05"/><circle cx="1216.58" cy="999.52" r="5.05"/><circle cx="1214.85" cy="1029.67" r="5.05"/><circle cx="1209.53" cy="1004.26" r="5.05"/><circle cx="1206.53" cy="1014.74" r="5.05"/><circle cx="1218.94" cy="1020.88" r="5.05"/><circle cx="1217.52" cy="1037.07" r="5.05"/><circle cx="1206.36" cy="1037.35" r="5.05"/><circle cx="1212.46" cy="990.44" r="5.05"/><circle cx="1207.49" cy="1009.02" r="5.05"/><circle cx="1218.17" cy="1035.42" r="5.05"/><circle cx="1209.4" cy="1011.51" r="5.05"/><circle cx="1219.07" cy="1048.1" r="5.05"/><circle cx="1211.22" cy="998.64" r="5.05"/><circle cx="1216.18" cy="994.19" r="5.05"/><circle cx="1217.27" cy="987.61" r="5.05"/><circle cx="1213.23" cy="1013.2" r="5.05"/><circle cx="1207.77" cy="1032.19" r="5.05"/><circle cx="1212.06" cy="1028.19" r="5.05"/><circle cx="1209.94" cy="1027.5" r="5.05"/><circle cx="1215.86" cy="1020.7" r="5.05"/><circle cx="1206.95" cy="990.91" r="5.05"/><circle cx="1211.04" cy="1007.32" r="5.05"/><circle cx="1214.76" cy="995.61" r="5.05"/><circle cx="1216.92" cy="1017.91" r="5.05"/><circle cx="1212.27" cy="1039.08" r="5.05"/><circle cx="1209.05" cy="1062.15" r="5.05"/></g>
<path d="M1188.95 1012.33H1237.15" fill="none" stroke-width="5.2" stroke-linecap="butt"/>
</g>
<g>
<path d="M1286.5 896.46V864.55M1274.3 864.55H1298.7" fill="none" stroke-width="4.6"/>
<path d="M1286.5 929.2V934.52M1274.3 934.52H1298.7" fill="none" stroke-width="4.6"/>
<rect x="1262.4" y="896.46" width="48.2" height="32.75" fill="#00A1FB" stroke-width="4.8"/>
<rect x="1278.5" y="902.45" width="16" height="16" fill="#FF0000" stroke-width="1.6" stroke-linejoin="miter"/>
<g fill="#B5E3F6" stroke-width="1.8"><circle cx="1291.5" cy="864.55" r="5.05"/><circle cx="1283.5" cy="879.66" r="5.05"/><circle cx="1290.5" cy="897.86" r="5.05"/><circle cx="1287.5" cy="913.25" r="5.05"/><circle cx="1293.5" cy="923.05" r="5.05"/><circle cx="1285.5" cy="925.85" r="5.05"/><circle cx="1282.5" cy="932.84" r="5.05"/></g>
<path d="M1262.4 919.41H1310.6" fill="none" stroke-width="5.2" stroke-linecap="butt"/>
</g>
<g>
<path d="M1359.95 835.72V816.69M1347.75 816.69H1372.15" fill="none" stroke-width="4.6"/>
<path d="M1359.95 888.9V904.29M1347.75 904.29H1372.15" fill="none" stroke-width="4.6"/>
<rect x="1335.85" y="835.72" width="48.2" height="53.18" fill="#00A1FB" stroke-width="4.8"/>
<rect x="1351.95" y="854.31" width="16" height="16" fill="#FF0000" stroke-width="1.6" stroke-linejoin="miter"/>
<g fill="#B5E3F6" stroke-width="1.8"><circle cx="1359.86" cy="877.88" r="5.05"/><circle cx="1358.63" cy="877.36" r="5.05"/><circle cx="1360.99" cy="883.2" r="5.05"/><circle cx="1360.86" cy="869.61" r="5.05"/><circle cx="1364.85" cy="874.08" r="5.05"/><circle cx="1360.67" cy="877.87" r="5.05"/><circle cx="1361.79" cy="868.56" r="5.05"/><circle cx="1358.29" cy="878.62" r="5.05"/><circle cx="1360.05" cy="873.8" r="5.05"/><circle cx="1350.95" cy="815.85" r="5.05"/><circle cx="1355.95" cy="822.29" r="5.05"/><circle cx="1354.95" cy="829.29" r="5.05"/><circle cx="1359.95" cy="836.28" r="5.05"/><circle cx="1355.95" cy="843.28" r="5.05"/><circle cx="1354.95" cy="893.66" r="5.05"/><circle cx="1366.95" cy="895.06" r="5.05"/><circle cx="1359.95" cy="899.26" r="5.05"/><circle cx="1359.95" cy="904.29" r="5.05"/></g>
<path d="M1335.85 874.63H1384.05" fill="none" stroke-width="5.2" stroke-linecap="butt"/>
</g>
<g>
<path d="M1433.4 764.91V741.12M1421.2 741.12H1445.6" fill="none" stroke-width="4.6"/>
<path d="M1433.4 837.96V911.57M1421.2 911.57H1445.6" fill="none" stroke-width="4.6"/>
<rect x="1409.3" y="764.91" width="48.2" height="73.05" fill="#00A1FB" stroke-width="4.8"/>
<rect x="1425.4" y="800.57" width="16" height="16" fill="#FF0000" stroke-width="1.6" stroke-linejoin="miter"/>
<g fill="#B5E3F6" stroke-width="1.8"><circle cx="1430.9" cy="822.47" r="5.05"/><circle cx="1437.8" cy="817.38" r="5.05"/><circle cx="1439.11" cy="808.56" r="5.05"/><circle cx="1434.88" cy="812.69" r="5.05"/><circle cx="1435.02" cy="817.27" r="5.05"/><circle cx="1432.98" cy="809.58" r="5.05"/><circle cx="1428.53" cy="826.21" r="5.05"/><circle cx="1439.2" cy="829.79" r="5.05"/><circle cx="1430.82" cy="831.79" r="5.05"/><circle cx="1430.53" cy="814.27" r="5.05"/><circle cx="1433.4" cy="741.12" r="5.05"/><circle cx="1433.4" cy="745.32" r="5.05"/><circle cx="1437.4" cy="753.72" r="5.05"/><circle cx="1421.4" cy="757.92" r="5.05"/><circle cx="1429.4" cy="759.32" r="5.05"/><circle cx="1435.4" cy="762.11" r="5.05"/><circle cx="1432.4" cy="766.31" r="5.05"/><circle cx="1425.4" cy="784.5" r="5.05"/><circle cx="1433.4" cy="837.68" r="5.05"/><circle cx="1431.4" cy="846.08" r="5.05"/><circle cx="1440.4" cy="865.67" r="5.05"/><circle cx="1431.4" cy="906.25" r="5.05"/><circle cx="1433.4" cy="911.57" r="5.05"/></g>
<path d="M1409.3 819.21H1457.5" fill="none" stroke-width="5.2" stroke-linecap="butt"/>
</g>
<g>
<path d="M1506.84 662.2V650.72M1494.64 650.72H1519.04" fill="none" stroke-width="4.6"/>
<path d="M1506.84 728.25V741.12M1494.64 741.12H1519.04" fill="none" stroke-width="4.6"/>
<rect x="1482.74" y="662.2" width="48.2" height="66.05" fill="#00A1FB" stroke-width="4.8"/>
<rect x="1498.84" y="687.78" width="16" height="16" fill="#FF0000" stroke-width="1.6" stroke-linejoin="miter"/>
<g fill="#B5E3F6" stroke-width="1.8"><circle cx="1501.84" cy="650.72" r="5.05"/><circle cx="1511.84" cy="664.16" r="5.05"/><circle cx="1508.84" cy="675.35" r="5.05"/><circle cx="1504.84" cy="685.15" r="5.05"/><circle cx="1507.84" cy="717.33" r="5.05"/><circle cx="1511.84" cy="725.73" r="5.05"/><circle cx="1509.84" cy="741.12" r="5.05"/></g>
<path d="M1482.74 686.27H1530.94" fill="none" stroke-width="5.2" stroke-linecap="butt"/>
</g>
<g>
<path d="M1580.29 569V527.85M1568.09 527.85H1592.49" fill="none" stroke-width="4.6"/>
<path d="M1580.29 629.45V690.46M1568.09 690.46H1592.49" fill="none" stroke-width="4.6"/>
<rect x="1556.19" y="569" width="48.2" height="60.45" fill="#00A1FB" stroke-width="4.8"/>
<rect x="1572.29" y="591.78" width="16" height="16" fill="#FF0000" stroke-width="1.6" stroke-linejoin="miter"/>
<g fill="#B5E3F6" stroke-width="1.8"><circle cx="1585.43" cy="637.91" r="5.05"/><circle cx="1576.45" cy="612.12" r="5.05"/><circle cx="1574.72" cy="575.94" r="5.05"/><circle cx="1584.81" cy="564.84" r="5.05"/><circle cx="1575.95" cy="593.01" r="5.05"/><circle cx="1579.93" cy="589.95" r="5.05"/><circle cx="1574.04" cy="552.97" r="5.05"/><circle cx="1579.8" cy="559.3" r="5.05"/><circle cx="1582.15" cy="538.87" r="5.05"/><circle cx="1587.19" cy="569.84" r="5.05"/><circle cx="1578.56" cy="611.63" r="5.05"/><circle cx="1573.89" cy="647.52" r="5.05"/><circle cx="1576.7" cy="647.66" r="5.05"/><circle cx="1582.85" cy="598.8" r="5.05"/><circle cx="1584.38" cy="615.66" r="5.05"/><circle cx="1580.31" cy="540.42" r="5.05"/><circle cx="1579.54" cy="582.45" r="5.05"/><circle cx="1578.88" cy="597.56" r="5.05"/><circle cx="1582.43" cy="623.15" r="5.05"/><circle cx="1575.39" cy="542.91" r="5.05"/><circle cx="1580.21" cy="578.92" r="5.05"/><circle cx="1579.42" cy="599.4" r="5.05"/><circle cx="1574.73" cy="611.81" r="5.05"/><circle cx="1575.88" cy="604.73" r="5.05"/><circle cx="1584.63" cy="602.57" r="5.05"/><circle cx="1582.74" cy="641.57" r="5.05"/><circle cx="1579.16" cy="563.08" r="5.05"/><circle cx="1582.5" cy="635.58" r="5.05"/><circle cx="1583.77" cy="565.42" r="5.05"/><circle cx="1578.17" cy="629.93" r="5.05"/><circle cx="1576.29" cy="627.38" r="5.05"/><circle cx="1586.48" cy="646.11" r="5.05"/><circle cx="1581.29" cy="554.2" r="5.05"/><circle cx="1584.89" cy="606.35" r="5.05"/><circle cx="1573.29" cy="527.85" r="5.05"/><circle cx="1579.29" cy="672.55" r="5.05"/><circle cx="1576.29" cy="690.46" r="5.05"/></g>
<path d="M1556.19 589.71H1604.39" fill="none" stroke-width="5.2" stroke-linecap="butt"/>
</g>
<g>
<path d="M1653.74 331.38V307.31M1641.54 307.31H1665.94" fill="none" stroke-width="4.6"/>
<path d="M1653.74 371.12V424.86M1641.54 424.86H1665.94" fill="none" stroke-width="4.6"/>
<rect x="1629.64" y="331.38" width="48.2" height="39.74" fill="#00A1FB" stroke-width="4.8"/>
<rect x="1645.74" y="345.49" width="16" height="16" fill="#FF0000" stroke-width="1.6" stroke-linejoin="miter"/>
<g fill="#B5E3F6" stroke-width="1.8"><circle cx="1649.9" cy="420.2" r="5.05"/><circle cx="1649.34" cy="417.72" r="5.05"/><circle cx="1653.21" cy="422.31" r="5.05"/><circle cx="1660.95" cy="319.33" r="5.05"/><circle cx="1660.1" cy="337.97" r="5.05"/><circle cx="1652.92" cy="354.84" r="5.05"/><circle cx="1661.27" cy="351.4" r="5.05"/><circle cx="1655.12" cy="363.8" r="5.05"/><circle cx="1649.75" cy="335.59" r="5.05"/><circle cx="1658.17" cy="351.17" r="5.05"/><circle cx="1660.1" cy="346.77" r="5.05"/><circle cx="1660.26" cy="313.37" r="5.05"/><circle cx="1652.36" cy="360.51" r="5.05"/><circle cx="1646.59" cy="403.17" r="5.05"/><circle cx="1654.51" cy="411.13" r="5.05"/><circle cx="1659.98" cy="387.61" r="5.05"/><circle cx="1647.55" cy="366.71" r="5.05"/><circle cx="1651.85" cy="316.92" r="5.05"/><circle cx="1648.26" cy="340.57" r="5.05"/><circle cx="1650.65" cy="360.16" r="5.05"/><circle cx="1653.14" cy="366.64" r="5.05"/><circle cx="1660.46" cy="338.92" r="5.05"/><circle cx="1659.75" cy="352.85" r="5.05"/><circle cx="1648.19" cy="366.16" r="5.05"/><circle cx="1647.17" cy="363.41" r="5.05"/><circle cx="1654.13" cy="340.07" r="5.05"/><circle cx="1652.79" cy="356.61" r="5.05"/><circle cx="1645.74" cy="346.21" r="5.05"/><circle cx="1648.93" cy="404.77" r="5.05"/><circle cx="1661.55" cy="364" r="5.05"/><circle cx="1656.44" cy="321.15" r="5.05"/><circle cx="1652.49" cy="325.47" r="5.05"/><circle cx="1648.62" cy="355.01" r="5.05"/><circle cx="1657.05" cy="321.28" r="5.05"/><circle cx="1653.51" cy="386.13" r="5.05"/><circle cx="1657.55" cy="362.24" r="5.05"/><circle cx="1657.43" cy="379.03" r="5.05"/><circle cx="1646.11" cy="350.99" r="5.05"/><circle cx="1646.95" cy="381.27" r="5.05"/><circle cx="1654.08" cy="356.63" r="5.05"/><circle cx="1656.22" cy="350.48" r="5.05"/><circle cx="1655.06" cy="313.2" r="5.05"/><circle cx="1647.52" cy="359.22" r="5.05"/><circle cx="1659.27" cy="396.49" r="5.05"/><circle cx="1645.98" cy="319.65" r="5.05"/><circle cx="1658.09" cy="403.77" r="5.05"/><circle cx="1656.7" cy="404.97" r="5.05"/><circle cx="1648.15" cy="407.68" r="5.05"/><circle cx="1647.69" cy="405.79" r="5.05"/><circle cx="1655.33" cy="354.99" r="5.05"/><circle cx="1652.24" cy="318.5" r="5.05"/><circle cx="1655.36" cy="340.1" r="5.05"/><circle cx="1660.14" cy="333.4" r="5.05"/><circle cx="1651.7" cy="361.91" r="5.05"/><circle cx="1645.97" cy="330.25" r="5.05"/><circle cx="1654.66" cy="332.35" r="5.05"/><circle cx="1648.55" cy="355.34" r="5.05"/><circle cx="1646.63" cy="319.04" r="5.05"/><circle cx="1659.94" cy="366.73" r="5.05"/><circle cx="1658.13" cy="403.14" r="5.05"/><circle cx="1649.68" cy="376.07" r="5.05"/><circle cx="1655.3" cy="350.38" r="5.05"/><circle cx="1651" cy="364.66" r="5.05"/><circle cx="1650.99" cy="357.06" r="5.05"/><circle cx="1653.53" cy="324.89" r="5.05"/><circle cx="1646.27" cy="310.22" r="5.05"/><circle cx="1658.43" cy="341.51" r="5.05"/><circle cx="1660.11" cy="372.06" r="5.05"/><circle cx="1651.02" cy="313.76" r="5.05"/><circle cx="1657.65" cy="369.32" r="5.05"/><circle cx="1655.14" cy="326.45" r="5.05"/><circle cx="1654.44" cy="336.4" r="5.05"/><circle cx="1658.76" cy="324.99" r="5.05"/><circle cx="1653.52" cy="365.28" r="5.05"/><circle cx="1651.74" cy="434.09" r="5.05"/><circle cx="1647.74" cy="448.37" r="5.05"/><circle cx="1659.74" cy="452" r="5.05"/></g>
<path d="M1629.64 343.13H1677.84" fill="none" stroke-width="5.2" stroke-linecap="butt"/>
</g>
<g>
<path d="M1727.19 230.62V205.71M1714.99 205.71H1739.39" fill="none" stroke-width="4.6"/>
<path d="M1727.19 265.32V316.54M1714.99 316.54H1739.39" fill="none" stroke-width="4.6"/>
<rect x="1703.09" y="230.62" width="48.2" height="34.71" fill="#00A1FB" stroke-width="4.8"/>
<rect x="1719.19" y="241.93" width="16" height="16" fill="#FF0000" stroke-width="1.6" stroke-linejoin="miter"/>
<g fill="#B5E3F6" stroke-width="1.8"><circle cx="1722.78" cy="311.32" r="5.05"/><circle cx="1734.87" cy="231.82" r="5.05"/><circle cx="1727.66" cy="303.33" r="5.05"/><circle cx="1732.63" cy="294.28" r="5.05"/><circle cx="1719.63" cy="232.47" r="5.05"/><circle cx="1730.97" cy="220.48" r="5.05"/><circle cx="1726.11" cy="264.65" r="5.05"/><circle cx="1728.9" cy="244.11" r="5.05"/><circle cx="1727.66" cy="307.83" r="5.05"/><circle cx="1734.6" cy="236.91" r="5.05"/><circle cx="1732.45" cy="281.54" r="5.05"/><circle cx="1720.1" cy="228.01" r="5.05"/><circle cx="1723.68" cy="272.52" r="5.05"/><circle cx="1722.73" cy="217.64" r="5.05"/><circle cx="1723.31" cy="237.16" r="5.05"/><circle cx="1732.66" cy="261.34" r="5.05"/><circle cx="1719.33" cy="287.83" r="5.05"/><circle cx="1726.47" cy="308.2" r="5.05"/><circle cx="1725.55" cy="270.22" r="5.05"/><circle cx="1733.84" cy="246.58" r="5.05"/><circle cx="1720.61" cy="226.45" r="5.05"/><circle cx="1719.48" cy="251.66" r="5.05"/><circle cx="1726.13" cy="277.38" r="5.05"/><circle cx="1728.82" cy="225.52" r="5.05"/><circle cx="1730.52" cy="224.09" r="5.05"/><circle cx="1734.36" cy="240.89" r="5.05"/><circle cx="1721.27" cy="246.6" r="5.05"/><circle cx="1725.55" cy="262.14" r="5.05"/><circle cx="1733.75" cy="264.55" r="5.05"/><circle cx="1731.09" cy="261.14" r="5.05"/><circle cx="1720.93" cy="232.52" r="5.05"/><circle cx="1732.37" cy="224.99" r="5.05"/><circle cx="1723.22" cy="256.8" r="5.05"/><circle cx="1725.8" cy="242.27" r="5.05"/><circle cx="1724.83" cy="215.07" r="5.05"/><circle cx="1732.21" cy="228.14" r="5.05"/><circle cx="1734.66" cy="299.65" r="5.05"/><circle cx="1733.88" cy="224.55" r="5.05"/><circle cx="1720.91" cy="251.13" r="5.05"/><circle cx="1719.52" cy="233.84" r="5.05"/><circle cx="1732.48" cy="236.54" r="5.05"/><circle cx="1732.71" cy="226.07" r="5.05"/><circle cx="1725.01" cy="225.21" r="5.05"/><circle cx="1734.45" cy="312.59" r="5.05"/><circle cx="1722.04" cy="246.89" r="5.05"/><circle cx="1720.27" cy="262.59" r="5.05"/><circle cx="1722.85" cy="242.88" r="5.05"/><circle cx="1720.81" cy="217.22" r="5.05"/><circle cx="1730.53" cy="209.5" r="5.05"/><circle cx="1723.59" cy="247.46" r="5.05"/><circle cx="1727" cy="301.13" r="5.05"/><circle cx="1730.59" cy="308.36" r="5.05"/><circle cx="1724.85" cy="261.95" r="5.05"/><circle cx="1733.25" cy="251.83" r="5.05"/><circle cx="1724.74" cy="244.59" r="5.05"/><circle cx="1726.07" cy="251.14" r="5.05"/><circle cx="1720.43" cy="311.91" r="5.05"/><circle cx="1724.43" cy="240.39" r="5.05"/><circle cx="1733.31" cy="301.03" r="5.05"/><circle cx="1725.28" cy="212.23" r="5.05"/><circle cx="1722.43" cy="251.45" r="5.05"/><circle cx="1726.21" cy="259.94" r="5.05"/><circle cx="1724.55" cy="266.74" r="5.05"/><circle cx="1730.69" cy="250.62" r="5.05"/><circle cx="1727.79" cy="291.26" r="5.05"/><circle cx="1719.96" cy="230.22" r="5.05"/><circle cx="1727.19" cy="326.62" r="5.05"/><circle cx="1733.19" cy="343.13" r="5.05"/><circle cx="1729.19" cy="353.21" r="5.05"/><circle cx="1725.19" cy="364.68" r="5.05"/></g>
<path d="M1703.09 239.01H1751.29" fill="none" stroke-width="5.2" stroke-linecap="butt"/>
</g>
<g>
<rect x="1776.54" y="1104.69" width="48.2" height="9.52" fill="#FF4242" stroke-width="4.8"/>
<rect x="1792.14" y="1105.67" width="7" height="7" fill="#FF0000" stroke-width="1.6" stroke-linejoin="miter"/>
<g fill="#FFC6C6" stroke-width="1.8"><circle cx="1802.64" cy="1102.73" r="5.05"/><circle cx="1799.64" cy="1113.93" r="5.05"/></g>
<path d="M1776.54 1109.17H1824.74" fill="none" stroke-width="5.2" stroke-linecap="butt"/>
</g>
<g>
<rect x="1866.09" y="1004.33" width="16" height="16" fill="#FF0000" stroke-width="1.6" stroke-linejoin="miter"/>
<g fill="#FFC6C6" stroke-width="1.8"><circle cx="1883.09" cy="1012.33" r="5.05"/></g>
<path d="M1850.94 1012.33H1897.24" fill="none" stroke-width="5.8"/>
</g>
<g>
<rect x="1939.53" y="836.12" width="16" height="16" fill="#FF0000" stroke-width="1.6" stroke-linejoin="miter"/>
<g fill="#FFC6C6" stroke-width="1.8"><circle cx="1947.53" cy="844.12" r="5.05"/></g>
<path d="M1924.38 844.12H1970.68" fill="none" stroke-width="5.8"/>
</g>
<g>
<path d="M2020.98 795.42V789.54M2008.78 789.54H2033.18" fill="none" stroke-width="4.6"/>
<rect x="1996.88" y="795.42" width="48.2" height="16.79" fill="#FF4242" stroke-width="4.8"/>
<rect x="2012.48" y="800.29" width="16" height="16" fill="#FF0000" stroke-width="1.6" stroke-linejoin="miter"/>
<g fill="#FFC6C6" stroke-width="1.8"><circle cx="2021.98" cy="788.14" r="5.05"/><circle cx="2020.28" cy="791.5" r="5.05"/><circle cx="2020.28" cy="799.06" r="5.05"/><circle cx="2015.68" cy="812.77" r="5.05"/><circle cx="2023.38" cy="852.24" r="5.05"/></g>
<path d="M1996.88 795.7H2045.08" fill="none" stroke-width="5.2" stroke-linecap="butt"/>
</g>
<g>
<rect x="2086.43" y="754.95" width="16" height="16" fill="#FF0000" stroke-width="1.6" stroke-linejoin="miter"/>
<g fill="#FFC6C6" stroke-width="1.8"><circle cx="2094.43" cy="762.95" r="5.05"/></g>
<path d="M2071.28 762.95H2117.58" fill="none" stroke-width="5.8"/>
</g>
<g>
<rect x="2159.88" y="1047.15" width="16" height="16" fill="#FF0000" stroke-width="1.6" stroke-linejoin="miter"/>
<g fill="#F4A0EE" stroke-width="1.8"><circle cx="2174.68" cy="1055.15" r="5.05"/></g>
<path d="M2144.73 1055.15H2191.03" fill="none" stroke-width="5.8"/>
</g>
<g>
<rect x="2233.33" y="967.38" width="16" height="16" fill="#FF0000" stroke-width="1.6" stroke-linejoin="miter"/>
<g fill="#F4A0EE" stroke-width="1.8"><circle cx="2239.33" cy="975.38" r="5.05"/></g>
<path d="M2218.18 975.38H2264.48" fill="none" stroke-width="5.8"/>
</g>
<g>
<rect x="2306.78" y="893.5" width="16" height="16" fill="#FF0000" stroke-width="1.6" stroke-linejoin="miter"/>
<g fill="#F4A0EE" stroke-width="1.8"><circle cx="2314.78" cy="901.5" r="5.05"/></g>
<path d="M2291.63 901.5H2337.93" fill="none" stroke-width="5.8"/>
</g>
</g>
<clipPath id="plotclip"><rect x="221.5" y="82.0" width="2130.0" height="1189.5"/></clipPath>
<g clip-path="url(#plotclip)" fill="none" stroke-linecap="round">
<g id="stage3" stroke="#0000FF">
<path d="M221.95 1019.61H294.5M295.4 885.26H367.95M368.85 829.29H441.39M442.29 745.32H514.84M515.74 669.75H588.29M589.19 585.79H661.74M662.64 431.85H735.19M736.09 291.91H808.64M809.54 263.92H882.08" stroke-width="7.7"/>
<path d="M294.95 1019.61V885.26M368.4 885.26V829.29M441.84 829.29V745.32M515.29 745.32V669.75M588.74 669.75V585.79M662.19 585.79V431.85M735.64 431.85V291.91M809.09 291.91V263.92" stroke-width="6.8"/>
<path d="M882.98 389.87H955.53M956.43 347.89H1028.98M1029.88 277.92H1102.43M1103.33 221.94H1175.88" stroke-width="7.7"/>
<path d="M955.98 389.87V347.89M1029.43 347.89V277.92M1102.88 277.92V221.94" stroke-width="6.8"/>
<path d="M1176.78 977.62H1249.33M1250.23 851.68H1322.77M1323.67 795.7H1396.22M1397.12 725.73H1469.67M1470.57 641.76H1543.12M1544.02 515.82H1616.57M1617.47 291.91H1690.02M1690.92 193.95H1763.46" stroke-width="7.7"/>
<path d="M1249.78 977.62V851.68M1323.22 851.68V795.7M1396.67 795.7V725.73M1470.12 725.73V641.76M1543.57 641.76V515.82M1617.02 515.82V291.91M1690.47 291.91V193.95" stroke-width="6.8"/>
<path d="M1764.36 1044.8H1836.91M1837.81 969.23H1910.36M1911.26 806.9H1983.81M1984.71 778.91H2057.26M2058.16 745.32H2130.71" stroke-width="7.7"/>
<path d="M1837.36 1044.8V969.23M1910.81 969.23V806.9M1984.26 806.9V778.91M2057.71 778.91V745.32" stroke-width="6.8"/>
<path d="M2131.61 1019.61H2204.15M2205.05 930.04H2277.6M2278.5 874.07H2351.05" stroke-width="7.7"/>
<path d="M2204.6 1019.61V930.04M2278.05 930.04V874.07" stroke-width="6.8"/>
</g>
<g id="stage4" stroke="#FF00FF">
<path d="M221.5 1044.8H294.95" stroke-width="7.7" stroke-dasharray="7.9 18.5" stroke-dashoffset="26.35"/>
<path d="M294.95 1044.8V938.44" stroke-width="6.9" stroke-dasharray="8.5 17.9" stroke-dashoffset="20.9"/>
<path d="M294.95 938.44H368.4" stroke-width="7.7" stroke-dasharray="7.9 18.5" stroke-dashoffset="21.35"/>
<path d="M368.4 938.44V888.06" stroke-width="6.9" stroke-dasharray="8.5 17.9" stroke-dashoffset="15.9"/>
<path d="M368.4 888.06H441.84" stroke-width="7.7" stroke-dasharray="7.9 18.5" stroke-dashoffset="13.18"/>
<path d="M441.84 888.06V815.29" stroke-width="6.9" stroke-dasharray="8.5 17.9" stroke-dashoffset="7.73"/>
<path d="M441.84 815.29H515.29" stroke-width="7.7" stroke-dasharray="7.9 18.5" stroke-dashoffset="1"/>
<path d="M515.29 815.29V748.12" stroke-width="6.9" stroke-dasharray="8.5 17.9" stroke-dashoffset="21.95"/>
<path d="M515.29 748.12H588.74" stroke-width="7.7" stroke-dasharray="7.9 18.5" stroke-dashoffset="9.62"/>
<path d="M588.74 748.12V672.55" stroke-width="6.9" stroke-dasharray="8.5 17.9" stroke-dashoffset="4.17"/>
<path d="M588.74 672.55H662.19" stroke-width="7.7" stroke-dasharray="7.9 18.5" stroke-dashoffset="0.23"/>
<path d="M662.19 672.55V515.82" stroke-width="6.9" stroke-dasharray="8.5 17.9" stroke-dashoffset="21.18"/>
<path d="M662.19 515.82H735.64" stroke-width="7.7" stroke-dasharray="7.9 18.5" stroke-dashoffset="19.22"/>
<path d="M735.64 515.82V398.27" stroke-width="6.9" stroke-dasharray="8.5 17.9" stroke-dashoffset="13.77"/>
<path d="M735.64 398.27H809.09" stroke-width="7.7" stroke-dasharray="7.9 18.5" stroke-dashoffset="25.42"/>
<path d="M809.09 398.27V373.08" stroke-width="6.9" stroke-dasharray="8.5 17.9" stroke-dashoffset="19.96"/>
<path d="M809.09 373.08H882.53" stroke-width="7.7" stroke-dasharray="7.9 18.5" stroke-dashoffset="18.45"/>
<path d="M882.53 515.82H955.98" stroke-width="7.7" stroke-dasharray="7.9 18.5" stroke-dashoffset="26.35"/>
<path d="M955.98 515.82V468.24" stroke-width="6.9" stroke-dasharray="8.5 17.9" stroke-dashoffset="20.9"/>
<path d="M955.98 468.24H1029.43" stroke-width="7.7" stroke-dasharray="7.9 18.5" stroke-dashoffset="15.38"/>
<path d="M1029.43 468.24V398.27" stroke-width="6.9" stroke-dasharray="8.5 17.9" stroke-dashoffset="9.93"/>
<path d="M1029.43 398.27H1102.88" stroke-width="7.7" stroke-dasharray="7.9 18.5" stroke-dashoffset="0.4"/>
<path d="M1102.88 398.27V339.49" stroke-width="6.9" stroke-dasharray="8.5 17.9" stroke-dashoffset="21.35"/>
<path d="M1102.88 339.49H1176.33" stroke-width="7.7" stroke-dasharray="7.9 18.5" stroke-dashoffset="0.62"/>
<path d="M1176.33 1016.81H1249.78" stroke-width="7.7" stroke-dasharray="7.9 18.5" stroke-dashoffset="26.35"/>
<path d="M1249.78 1016.81V904.85" stroke-width="6.9" stroke-dasharray="8.5 17.9" stroke-dashoffset="20.9"/>
<path d="M1249.78 904.85H1323.22" stroke-width="7.7" stroke-dasharray="7.9 18.5" stroke-dashoffset="0.55"/>
<path d="M1323.22 904.85V853.08" stroke-width="6.9" stroke-dasharray="8.5 17.9" stroke-dashoffset="21.5"/>
<path d="M1323.22 853.08H1396.67" stroke-width="7.7" stroke-dasharray="7.9 18.5" stroke-dashoffset="20.18"/>
<path d="M1396.67 853.08V790.1" stroke-width="6.9" stroke-dasharray="8.5 17.9" stroke-dashoffset="14.73"/>
<path d="M1396.67 790.1H1470.12" stroke-width="7.7" stroke-dasharray="7.9 18.5" stroke-dashoffset="24.6"/>
<path d="M1470.12 790.1V711.74" stroke-width="6.9" stroke-dasharray="8.5 17.9" stroke-dashoffset="19.15"/>
<path d="M1470.12 711.74H1543.57" stroke-width="7.7" stroke-dasharray="7.9 18.5" stroke-dashoffset="18.01"/>
<path d="M1543.57 711.74V599.78" stroke-width="6.9" stroke-dasharray="8.5 17.9" stroke-dashoffset="12.56"/>
<path d="M1543.57 599.78H1617.02" stroke-width="7.7" stroke-dasharray="7.9 18.5" stroke-dashoffset="18.62"/>
<path d="M1617.02 599.78V395.47" stroke-width="6.9" stroke-dasharray="8.5 17.9" stroke-dashoffset="13.16"/>
<path d="M1617.02 395.47H1690.47" stroke-width="7.7" stroke-dasharray="7.9 18.5" stroke-dashoffset="5.98"/>
<path d="M1690.47 395.47V308.7" stroke-width="6.9" stroke-dasharray="8.5 17.9" stroke-dashoffset="0.53"/>
<path d="M1690.47 308.7H1763.91" stroke-width="7.7" stroke-dasharray="7.9 18.5" stroke-dashoffset="7.79"/>
<path d="M1763.91 1069.98H1837.36" stroke-width="7.7" stroke-dasharray="7.9 18.5" stroke-dashoffset="26.35"/>
<path d="M1837.36 1069.98V974.82" stroke-width="6.9" stroke-dasharray="8.5 17.9" stroke-dashoffset="20.9"/>
<path d="M1837.36 974.82H1910.81" stroke-width="7.7" stroke-dasharray="7.9 18.5" stroke-dashoffset="10.16"/>
<path d="M1910.81 974.82V798.5" stroke-width="6.9" stroke-dasharray="8.5 17.9" stroke-dashoffset="4.71"/>
<path d="M1910.81 798.5H1984.26" stroke-width="7.7" stroke-dasharray="7.9 18.5" stroke-dashoffset="22.33"/>
<path d="M1984.26 798.5V764.91" stroke-width="6.9" stroke-dasharray="8.5 17.9" stroke-dashoffset="16.88"/>
<path d="M1984.26 764.91H2057.71" stroke-width="7.7" stroke-dasharray="7.9 18.5" stroke-dashoffset="23.77"/>
<path d="M2057.71 764.91V728.53" stroke-width="6.9" stroke-dasharray="8.5 17.9" stroke-dashoffset="18.31"/>
<path d="M2057.71 728.53H2131.16" stroke-width="7.7" stroke-dasharray="7.9 18.5" stroke-dashoffset="1.6"/>
<path d="M2131.16 1036.4H2204.6" stroke-width="7.7" stroke-dasharray="7.9 18.5" stroke-dashoffset="26.35"/>
<path d="M2204.6 1036.4V941.24" stroke-width="6.9" stroke-dasharray="8.5 17.9" stroke-dashoffset="20.9"/>
<path d="M2204.6 941.24H2278.05" stroke-width="7.7" stroke-dasharray="7.9 18.5" stroke-dashoffset="10.16"/>
<path d="M2278.05 941.24V879.66" stroke-width="6.9" stroke-dasharray="8.5 17.9" stroke-dashoffset="4.71"/>
<path d="M2278.05 879.66H2351.5" stroke-width="7.7" stroke-dasharray="7.9 18.5" stroke-dashoffset="13.18"/>
</g>
</g>
<g id="dividers" stroke="#000" fill="none" stroke-dasharray="17.6 13.73">
<path d="M882.1 94.1V1271.5" stroke-width="3.7"/>
<path d="M1177.6 94.1V1271.5" stroke-width="5.0"/>
<path d="M1765 94.1V1271.5" stroke-width="3.7"/>
<path d="M2128.2 94.1V1271.5" stroke-width="3.7"/>
</g>
<g id="legend">
<rect x="499.3" y="868.4" width="652.4" height="384" fill="#fff" stroke="#000" stroke-width="2.8"/>
<rect x="507.4" y="876.5" width="95.2" height="45.8" fill="#00CD90" stroke="#000" stroke-width="4.8" stroke-linejoin="round"/>
<path d="M539.5 932H569.5M554.4 932V975.8M539.5 975.8H569.5" fill="none" stroke="#000" stroke-width="4.4" stroke-linecap="round"/>
<path d="M524.3 1006.9H585.3" fill="none" stroke="#000" stroke-width="4.6" stroke-linecap="round"/>
<rect x="542.3" y="1048.6" width="24.8" height="24.4" fill="#FF0000" stroke="#000" stroke-width="2.6"/>
<circle cx="554.4" cy="1114.2" r="4.55" fill="#B3FCE4" stroke="#000" stroke-width="1.9"/>
<path d="M506.2 1167.8H603.5" fill="none" stroke="#0000FF" stroke-width="7.6" stroke-linecap="round"/>
<path d="M506.4 1221.7H600" fill="none" stroke="#FF00FF" stroke-width="7.6" stroke-linecap="round" stroke-dasharray="8 18.5"/>
<g font-family='"Liberation Sans", sans-serif' font-size="42.5" fill="#000" letter-spacing="0.62">
<text x="616.7" y="914.2">25%~75%</text>
<text x="616.7" y="967.5">Range within 1.5IQR</text>
<text x="616.7" y="1021.0">Median Line</text>
<text x="616.7" y="1075.0">Mean</text>
<text x="616.7" y="1127.7">Fuel consumption</text>
<text x="616.7" y="1181.3">China 3rd stage</text>
<text x="616.7" y="1235.5">China 4th stage (proposed)</text>
</g></g>
<g id="axes" stroke="#000" fill="none" stroke-linecap="butt" shape-rendering="crispEdges">
<path d="M195 82H2354" stroke-width="6"/>
<path d="M219 1271.5H2354" stroke-width="5"/>
<path d="M221.5 79V1274" stroke-width="5"/>
<path d="M2351.5 79V1274" stroke-width="5"/>
<path d="M208 151.5H220M195 221.5H220M208 291.5H220M195 361.5H220M208 431.5H220M195 501.5H220M208 571.5H220M195 641.5H220M208 711.5H220M195 781.5H220M208 851.5H220M195 921.5H220M208 991.5H220M195 1061.5H220M208 1131.5H220M195 1201.5H220M208 1271.5H220" stroke-width="5"/>
<path d="M258 1271V1298M332 1271V1298M405 1271V1298M479 1271V1298M552 1271V1298M625 1271V1298M699 1271V1298M772 1271V1298M846 1271V1298M919 1271V1298M993 1271V1298M1066 1271V1298M1140 1271V1298M1213 1271V1298M1286 1271V1298M1360 1271V1298M1433 1271V1298M1507 1271V1298M1580 1271V1298M1654 1271V1298M1727 1271V1298M1801 1271V1298M1874 1271V1298M1948 1271V1298M2021 1271V1298M2094 1271V1298M2168 1271V1298M2241 1271V1298M2315 1271V1298" stroke-width="6"/>
</g>
<g id="labels" font-family='"Liberation Sans", sans-serif' fill="#000">
<g font-size="54" text-anchor="end" letter-spacing="2.6">
<text transform="translate(178.8 1217.33) scale(1 1.05)">5</text>
<text transform="translate(178.8 1077.39) scale(1 1.05)">10</text>
<text transform="translate(178.8 937.45) scale(1 1.05)">15</text>
<text transform="translate(178.8 797.51) scale(1 1.05)">20</text>
<text transform="translate(178.8 657.56) scale(1 1.05)">25</text>
<text transform="translate(178.8 517.62) scale(1 1.05)">30</text>
<text transform="translate(178.8 377.68) scale(1 1.05)">35</text>
<text transform="translate(178.8 237.74) scale(1 1.05)">40</text>
<text transform="translate(178.8 97.8) scale(1 1.05)">45</text>
</g>
<g font-size="54" text-anchor="end" letter-spacing="1.2">
<text transform="translate(301.42 1356.8) rotate(-45) scale(1 1.05)">3.5~4.5</text>
<text transform="translate(374.87 1356.8) rotate(-45) scale(1 1.05)">7~8.5</text>
<text transform="translate(448.32 1356.8) rotate(-45) scale(1 1.05)">8.5~10.5</text>
<text transform="translate(521.77 1356.8) rotate(-45) scale(1 1.05)">10.5~12.5</text>
<text transform="translate(595.22 1356.8) rotate(-45) scale(1 1.05)">12.5~16.0</text>
<text transform="translate(668.67 1356.8) rotate(-45) scale(1 1.05)">16~20</text>
<text transform="translate(742.11 1356.8) rotate(-45) scale(1 1.05)">20~25</text>
<text transform="translate(815.56 1356.8) rotate(-45) scale(1 1.05)">25~31</text>
<text transform="translate(889.01 1356.8) rotate(-45) scale(1 1.05)"><tspan font-family='"Liberation Sans", "Noto Sans CJK SC", sans-serif' font-weight="300">＞</tspan>31</text>
<text transform="translate(962.46 1356.8) rotate(-45) scale(1 1.05)">35~40</text>
<text transform="translate(1035.91 1356.8) rotate(-45) scale(1 1.05)">40~43</text>
<text transform="translate(1109.36 1356.8) rotate(-45) scale(1 1.05)">43~46</text>
<text transform="translate(1182.8 1356.8) rotate(-45) scale(1 1.05)">46~49</text>
<text transform="translate(1256.25 1356.8) rotate(-45) scale(1 1.05)">3.5~4.5</text>
<text transform="translate(1329.7 1356.8) rotate(-45) scale(1 1.05)">7~8.5</text>
<text transform="translate(1403.15 1356.8) rotate(-45) scale(1 1.05)">8.5~10.5</text>
<text transform="translate(1476.6 1356.8) rotate(-45) scale(1 1.05)">10.5~12.5</text>
<text transform="translate(1550.04 1356.8) rotate(-45) scale(1 1.05)">12.5~16</text>
<text transform="translate(1623.49 1356.8) rotate(-45) scale(1 1.05)">16~20</text>
<text transform="translate(1696.94 1356.8) rotate(-45) scale(1 1.05)">20~25</text>
<text transform="translate(1770.39 1356.8) rotate(-45) scale(1 1.05)">25~31</text>
<text transform="translate(1843.84 1356.8) rotate(-45) scale(1 1.05)">3.5~4.5</text>
<text transform="translate(1917.29 1356.8) rotate(-45) scale(1 1.05)">5.5~7</text>
<text transform="translate(1990.73 1356.8) rotate(-45) scale(1 1.05)">12.5~14.5</text>
<text transform="translate(2064.18 1356.8) rotate(-45) scale(1 1.05)">14.5~16.5</text>
<text transform="translate(2137.63 1356.8) rotate(-45) scale(1 1.05)">16.5~18</text>
<text transform="translate(2211.08 1356.8) rotate(-45) scale(1 1.05)">3.5~4.5</text>
<text transform="translate(2284.53 1356.8) rotate(-45) scale(1 1.05)">5.5~7</text>
<text transform="translate(2357.98 1356.8) rotate(-45) scale(1 1.05)">7~8.5</text>
</g>
<text x="1287" y="1598.3" font-size="68.5" text-anchor="middle" letter-spacing="0.8">GVW (t)</text>
<text transform="translate(85.7 675.5) rotate(-90)" font-size="68.5" text-anchor="middle">Fuel consumption (L/100km)</text>
<g font-size="68.5" text-anchor="middle">
<text x="539.4" y="178" letter-spacing="0.9">Truck</text>
<text x="1034.2" y="178" letter-spacing="0.9">Tractor</text>
<text x="1472.8" y="178" letter-spacing="0.15">Dump truck</text>
<text x="1963.2" y="178" letter-spacing="0.9">Bus</text>
<text x="2236.4" y="177.5" letter-spacing="0.9">Urban</text>
<text x="2235.8" y="261.5" letter-spacing="0.9">bus</text>
</g>
</g>
</svg>
</figure></body></html>
